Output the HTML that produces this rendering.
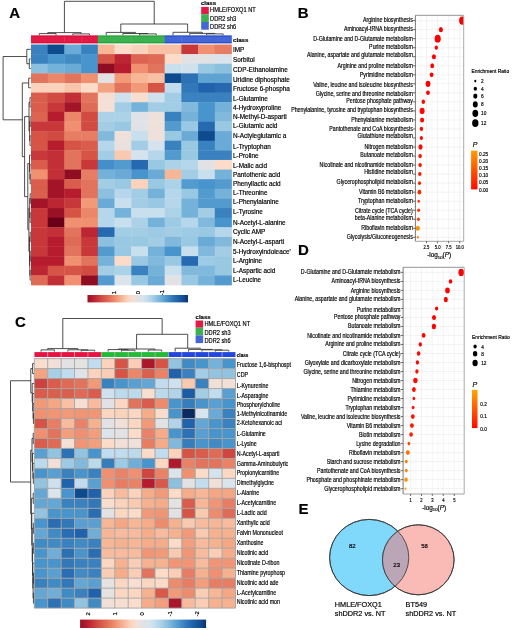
<!DOCTYPE html>
<html><head><meta charset="utf-8"><title>Figure</title>
<style>
html,body{margin:0;padding:0;background:#fff;}
body{width:520px;height:630px;overflow:hidden;}
svg{display:block;}
svg text{font-family:"Liberation Sans",Arial,sans-serif;fill:#000;stroke:#000;stroke-width:0.18px;}
</style></head><body>
<svg width="520" height="630" viewBox="0 0 520 630">
<rect x="0" y="0" width="520" height="630" fill="#fff"/>
<text x="9.2" y="17.8" font-size="15" font-weight="bold">A</text>
<rect x="31" y="44.5" width="17.06" height="9.97" fill="#3981bf"/>
<rect x="47.71" y="44.5" width="17.06" height="9.97" fill="#0e4a8e"/>
<rect x="64.42" y="44.5" width="17.06" height="9.97" fill="#6aaad6"/>
<rect x="81.12" y="44.5" width="17.06" height="9.97" fill="#3981bf"/>
<rect x="97.83" y="44.5" width="17.06" height="9.97" fill="#f7b696"/>
<rect x="114.54" y="44.5" width="17.06" height="9.97" fill="#fcdcc8"/>
<rect x="131.25" y="44.5" width="17.06" height="9.97" fill="#fbd3bc"/>
<rect x="147.96" y="44.5" width="17.06" height="9.97" fill="#f8c0a4"/>
<rect x="164.67" y="44.5" width="17.06" height="9.97" fill="#f8c0a4"/>
<rect x="181.38" y="44.5" width="17.06" height="9.97" fill="#c8383a"/>
<rect x="198.08" y="44.5" width="17.06" height="9.97" fill="#f09070"/>
<rect x="214.79" y="44.5" width="17.06" height="9.97" fill="#e77d63"/>
<text x="233" y="51.55" font-size="6.4">IMP</text>
<rect x="31" y="54.12" width="17.06" height="9.97" fill="#3981bf"/>
<rect x="47.71" y="54.12" width="17.06" height="9.97" fill="#4894cc"/>
<rect x="64.42" y="54.12" width="17.06" height="9.97" fill="#418bc5"/>
<rect x="81.12" y="54.12" width="17.06" height="9.97" fill="#4894cc"/>
<rect x="97.83" y="54.12" width="17.06" height="9.97" fill="#d65446"/>
<rect x="114.54" y="54.12" width="17.06" height="9.97" fill="#bc2532"/>
<rect x="131.25" y="54.12" width="17.06" height="9.97" fill="#dc6451"/>
<rect x="147.96" y="54.12" width="17.06" height="9.97" fill="#df6b56"/>
<rect x="164.67" y="54.12" width="17.06" height="9.97" fill="#fcdcc8"/>
<rect x="181.38" y="54.12" width="17.06" height="9.97" fill="#e2e2e4"/>
<rect x="198.08" y="54.12" width="17.06" height="9.97" fill="#e2e2e4"/>
<rect x="214.79" y="54.12" width="17.06" height="9.97" fill="#dbe3eb"/>
<text x="233" y="61.85" font-size="6.4">Sorbitol</text>
<rect x="31" y="63.74" width="17.06" height="9.97" fill="#8cc0df"/>
<rect x="47.71" y="63.74" width="17.06" height="9.97" fill="#75b2d9"/>
<rect x="64.42" y="63.74" width="17.06" height="9.97" fill="#6aaad6"/>
<rect x="81.12" y="63.74" width="17.06" height="9.97" fill="#4894cc"/>
<rect x="97.83" y="63.74" width="17.06" height="9.97" fill="#900c22"/>
<rect x="114.54" y="63.74" width="17.06" height="9.97" fill="#b61c2e"/>
<rect x="131.25" y="63.74" width="17.06" height="9.97" fill="#f09070"/>
<rect x="147.96" y="63.74" width="17.06" height="9.97" fill="#e2735c"/>
<rect x="164.67" y="63.74" width="17.06" height="9.97" fill="#c8dfee"/>
<rect x="181.38" y="63.74" width="17.06" height="9.97" fill="#d0e1ee"/>
<rect x="198.08" y="63.74" width="17.06" height="9.97" fill="#98c8e2"/>
<rect x="214.79" y="63.74" width="17.06" height="9.97" fill="#8cc0df"/>
<text x="233" y="72.35" font-size="6.4">CDP-Ethanolamine</text>
<rect x="31" y="73.36" width="17.06" height="9.97" fill="#e2735c"/>
<rect x="47.71" y="73.36" width="17.06" height="9.97" fill="#eb8669"/>
<rect x="64.42" y="73.36" width="17.06" height="9.97" fill="#e2735c"/>
<rect x="81.12" y="73.36" width="17.06" height="9.97" fill="#f09070"/>
<rect x="97.83" y="73.36" width="17.06" height="9.97" fill="#e2e2e4"/>
<rect x="114.54" y="73.36" width="17.06" height="9.97" fill="#f29978"/>
<rect x="131.25" y="73.36" width="17.06" height="9.97" fill="#f7b696"/>
<rect x="147.96" y="73.36" width="17.06" height="9.97" fill="#f8c0a4"/>
<rect x="164.67" y="73.36" width="17.06" height="9.97" fill="#0e4a8e"/>
<rect x="181.38" y="73.36" width="17.06" height="9.97" fill="#2c71b4"/>
<rect x="198.08" y="73.36" width="17.06" height="9.97" fill="#5fa3d3"/>
<rect x="214.79" y="73.36" width="17.06" height="9.97" fill="#5fa3d3"/>
<text x="233" y="81.85" font-size="6.4">Uridine diphosphate</text>
<rect x="31" y="82.98" width="17.06" height="9.97" fill="#fbd3bc"/>
<rect x="47.71" y="82.98" width="17.06" height="9.97" fill="#fbd3bc"/>
<rect x="64.42" y="82.98" width="17.06" height="9.97" fill="#f9c5aa"/>
<rect x="81.12" y="82.98" width="17.06" height="9.97" fill="#fcdcc8"/>
<rect x="97.83" y="82.98" width="17.06" height="9.97" fill="#f4a380"/>
<rect x="114.54" y="82.98" width="17.06" height="9.97" fill="#e2735c"/>
<rect x="131.25" y="82.98" width="17.06" height="9.97" fill="#f29978"/>
<rect x="147.96" y="82.98" width="17.06" height="9.97" fill="#d65446"/>
<rect x="164.67" y="82.98" width="17.06" height="9.97" fill="#c0dcee"/>
<rect x="181.38" y="82.98" width="17.06" height="9.97" fill="#3278b8"/>
<rect x="198.08" y="82.98" width="17.06" height="9.97" fill="#2062ac"/>
<rect x="214.79" y="82.98" width="17.06" height="9.97" fill="#2669b0"/>
<text x="233" y="91.35" font-size="6.4">Fructose 6-phospha</text>
<rect x="31" y="92.6" width="17.06" height="9.97" fill="#d95c4c"/>
<rect x="47.71" y="92.6" width="17.06" height="9.97" fill="#d14b42"/>
<rect x="64.42" y="92.6" width="17.06" height="9.97" fill="#c22f36"/>
<rect x="81.12" y="92.6" width="17.06" height="9.97" fill="#e2735c"/>
<rect x="97.83" y="92.6" width="17.06" height="9.97" fill="#f6dfd2"/>
<rect x="114.54" y="92.6" width="17.06" height="9.97" fill="#d0e1ee"/>
<rect x="131.25" y="92.6" width="17.06" height="9.97" fill="#f8decf"/>
<rect x="147.96" y="92.6" width="17.06" height="9.97" fill="#d0e1ee"/>
<rect x="164.67" y="92.6" width="17.06" height="9.97" fill="#a2cde5"/>
<rect x="181.38" y="92.6" width="17.06" height="9.97" fill="#3981bf"/>
<rect x="198.08" y="92.6" width="17.06" height="9.97" fill="#3981bf"/>
<rect x="214.79" y="92.6" width="17.06" height="9.97" fill="#3981bf"/>
<text x="233" y="100.65" font-size="6.4">L-Glutamine</text>
<rect x="31" y="102.22" width="17.06" height="9.97" fill="#d95c4c"/>
<rect x="47.71" y="102.22" width="17.06" height="9.97" fill="#c8383a"/>
<rect x="64.42" y="102.22" width="17.06" height="9.97" fill="#a31428"/>
<rect x="81.12" y="102.22" width="17.06" height="9.97" fill="#df6b56"/>
<rect x="97.83" y="102.22" width="17.06" height="9.97" fill="#f4e0d6"/>
<rect x="114.54" y="102.22" width="17.06" height="9.97" fill="#a2cde5"/>
<rect x="131.25" y="102.22" width="17.06" height="9.97" fill="#75b2d9"/>
<rect x="147.96" y="102.22" width="17.06" height="9.97" fill="#a2cde5"/>
<rect x="164.67" y="102.22" width="17.06" height="9.97" fill="#a2cde5"/>
<rect x="181.38" y="102.22" width="17.06" height="9.97" fill="#81b9dc"/>
<rect x="198.08" y="102.22" width="17.06" height="9.97" fill="#4894cc"/>
<rect x="214.79" y="102.22" width="17.06" height="9.97" fill="#75b2d9"/>
<text x="233" y="109.65" font-size="6.4">4-Hydroxyproline</text>
<rect x="31" y="111.84" width="17.06" height="9.97" fill="#dc6451"/>
<rect x="47.71" y="111.84" width="17.06" height="9.97" fill="#b61c2e"/>
<rect x="64.42" y="111.84" width="17.06" height="9.97" fill="#eb8669"/>
<rect x="81.12" y="111.84" width="17.06" height="9.97" fill="#d14b42"/>
<rect x="97.83" y="111.84" width="17.06" height="9.97" fill="#acd2e8"/>
<rect x="114.54" y="111.84" width="17.06" height="9.97" fill="#acd2e8"/>
<rect x="131.25" y="111.84" width="17.06" height="9.97" fill="#dfe3e7"/>
<rect x="147.96" y="111.84" width="17.06" height="9.97" fill="#eee1db"/>
<rect x="164.67" y="111.84" width="17.06" height="9.97" fill="#3981bf"/>
<rect x="181.38" y="111.84" width="17.06" height="9.97" fill="#75b2d9"/>
<rect x="198.08" y="111.84" width="17.06" height="9.97" fill="#4894cc"/>
<rect x="214.79" y="111.84" width="17.06" height="9.97" fill="#81b9dc"/>
<text x="233" y="118.85" font-size="6.4">N-Methyl-D-asparti</text>
<rect x="31" y="121.46" width="17.06" height="9.97" fill="#c8383a"/>
<rect x="47.71" y="121.46" width="17.06" height="9.97" fill="#c8383a"/>
<rect x="64.42" y="121.46" width="17.06" height="9.97" fill="#f09070"/>
<rect x="81.12" y="121.46" width="17.06" height="9.97" fill="#d14b42"/>
<rect x="97.83" y="121.46" width="17.06" height="9.97" fill="#a2cde5"/>
<rect x="114.54" y="121.46" width="17.06" height="9.97" fill="#98c8e2"/>
<rect x="131.25" y="121.46" width="17.06" height="9.97" fill="#dfe3e7"/>
<rect x="147.96" y="121.46" width="17.06" height="9.97" fill="#eee1db"/>
<rect x="164.67" y="121.46" width="17.06" height="9.97" fill="#539bcf"/>
<rect x="181.38" y="121.46" width="17.06" height="9.97" fill="#98c8e2"/>
<rect x="198.08" y="121.46" width="17.06" height="9.97" fill="#2669b0"/>
<rect x="214.79" y="121.46" width="17.06" height="9.97" fill="#98c8e2"/>
<text x="233" y="128.15" font-size="6.4">L-Glutamic acid</text>
<rect x="31" y="131.08" width="17.06" height="9.97" fill="#d65446"/>
<rect x="47.71" y="131.08" width="17.06" height="9.97" fill="#d14b42"/>
<rect x="64.42" y="131.08" width="17.06" height="9.97" fill="#e77d63"/>
<rect x="81.12" y="131.08" width="17.06" height="9.97" fill="#e77d63"/>
<rect x="97.83" y="131.08" width="17.06" height="9.97" fill="#81b9dc"/>
<rect x="114.54" y="131.08" width="17.06" height="9.97" fill="#eee1db"/>
<rect x="131.25" y="131.08" width="17.06" height="9.97" fill="#c8dfee"/>
<rect x="147.96" y="131.08" width="17.06" height="9.97" fill="#eee1db"/>
<rect x="164.67" y="131.08" width="17.06" height="9.97" fill="#98c8e2"/>
<rect x="181.38" y="131.08" width="17.06" height="9.97" fill="#6aaad6"/>
<rect x="198.08" y="131.08" width="17.06" height="9.97" fill="#0e4a8e"/>
<rect x="214.79" y="131.08" width="17.06" height="9.97" fill="#6aaad6"/>
<text x="233" y="138.05" font-size="6.4">N-Actyleglutamic a</text>
<rect x="31" y="140.7" width="17.06" height="9.97" fill="#d65446"/>
<rect x="47.71" y="140.7" width="17.06" height="9.97" fill="#b61c2e"/>
<rect x="64.42" y="140.7" width="17.06" height="9.97" fill="#d65446"/>
<rect x="81.12" y="140.7" width="17.06" height="9.97" fill="#d95c4c"/>
<rect x="97.83" y="140.7" width="17.06" height="9.97" fill="#b6d7eb"/>
<rect x="114.54" y="140.7" width="17.06" height="9.97" fill="#e8e1df"/>
<rect x="131.25" y="140.7" width="17.06" height="9.97" fill="#a2cde5"/>
<rect x="147.96" y="140.7" width="17.06" height="9.97" fill="#d4e3ee"/>
<rect x="164.67" y="140.7" width="17.06" height="9.97" fill="#3981bf"/>
<rect x="181.38" y="140.7" width="17.06" height="9.97" fill="#98c8e2"/>
<rect x="198.08" y="140.7" width="17.06" height="9.97" fill="#3981bf"/>
<rect x="214.79" y="140.7" width="17.06" height="9.97" fill="#6aaad6"/>
<text x="233" y="148.85" font-size="6.4">L-Tryptophan</text>
<rect x="31" y="150.32" width="17.06" height="9.97" fill="#c8383a"/>
<rect x="47.71" y="150.32" width="17.06" height="9.97" fill="#c22f36"/>
<rect x="64.42" y="150.32" width="17.06" height="9.97" fill="#e2735c"/>
<rect x="81.12" y="150.32" width="17.06" height="9.97" fill="#d65446"/>
<rect x="97.83" y="150.32" width="17.06" height="9.97" fill="#a2cde5"/>
<rect x="114.54" y="150.32" width="17.06" height="9.97" fill="#f9c9b0"/>
<rect x="131.25" y="150.32" width="17.06" height="9.97" fill="#d4e3ee"/>
<rect x="147.96" y="150.32" width="17.06" height="9.97" fill="#b6d7eb"/>
<rect x="164.67" y="150.32" width="17.06" height="9.97" fill="#539bcf"/>
<rect x="181.38" y="150.32" width="17.06" height="9.97" fill="#98c8e2"/>
<rect x="198.08" y="150.32" width="17.06" height="9.97" fill="#3981bf"/>
<rect x="214.79" y="150.32" width="17.06" height="9.97" fill="#3981bf"/>
<text x="233" y="158.45" font-size="6.4">L-Proline</text>
<rect x="31" y="159.94" width="17.06" height="9.97" fill="#d95c4c"/>
<rect x="47.71" y="159.94" width="17.06" height="9.97" fill="#c22f36"/>
<rect x="64.42" y="159.94" width="17.06" height="9.97" fill="#e2735c"/>
<rect x="81.12" y="159.94" width="17.06" height="9.97" fill="#c8383a"/>
<rect x="97.83" y="159.94" width="17.06" height="9.97" fill="#448fc9"/>
<rect x="114.54" y="159.94" width="17.06" height="9.97" fill="#539bcf"/>
<rect x="131.25" y="159.94" width="17.06" height="9.97" fill="#2669b0"/>
<rect x="147.96" y="159.94" width="17.06" height="9.97" fill="#98c8e2"/>
<rect x="164.67" y="159.94" width="17.06" height="9.97" fill="#acd2e8"/>
<rect x="181.38" y="159.94" width="17.06" height="9.97" fill="#b6d7eb"/>
<rect x="198.08" y="159.94" width="17.06" height="9.97" fill="#e2e2e4"/>
<rect x="214.79" y="159.94" width="17.06" height="9.97" fill="#fcdcc8"/>
<text x="233" y="167.65" font-size="6.4">L-Malic acid</text>
<rect x="31" y="169.56" width="17.06" height="9.97" fill="#f09070"/>
<rect x="47.71" y="169.56" width="17.06" height="9.97" fill="#c22f36"/>
<rect x="64.42" y="169.56" width="17.06" height="9.97" fill="#900c22"/>
<rect x="81.12" y="169.56" width="17.06" height="9.97" fill="#e77d63"/>
<rect x="97.83" y="169.56" width="17.06" height="9.97" fill="#75b2d9"/>
<rect x="114.54" y="169.56" width="17.06" height="9.97" fill="#6aaad6"/>
<rect x="131.25" y="169.56" width="17.06" height="9.97" fill="#4894cc"/>
<rect x="147.96" y="169.56" width="17.06" height="9.97" fill="#6aaad6"/>
<rect x="164.67" y="169.56" width="17.06" height="9.97" fill="#f7b696"/>
<rect x="181.38" y="169.56" width="17.06" height="9.97" fill="#a2cde5"/>
<rect x="198.08" y="169.56" width="17.06" height="9.97" fill="#c8dfee"/>
<rect x="214.79" y="169.56" width="17.06" height="9.97" fill="#75b2d9"/>
<text x="233" y="176.75" font-size="6.4">Pantothenic acid</text>
<rect x="31" y="179.18" width="17.06" height="9.97" fill="#d95c4c"/>
<rect x="47.71" y="179.18" width="17.06" height="9.97" fill="#a31428"/>
<rect x="64.42" y="179.18" width="17.06" height="9.97" fill="#d95c4c"/>
<rect x="81.12" y="179.18" width="17.06" height="9.97" fill="#e2735c"/>
<rect x="97.83" y="179.18" width="17.06" height="9.97" fill="#a2cde5"/>
<rect x="114.54" y="179.18" width="17.06" height="9.97" fill="#98c8e2"/>
<rect x="131.25" y="179.18" width="17.06" height="9.97" fill="#fbd3bc"/>
<rect x="147.96" y="179.18" width="17.06" height="9.97" fill="#98c8e2"/>
<rect x="164.67" y="179.18" width="17.06" height="9.97" fill="#acd2e8"/>
<rect x="181.38" y="179.18" width="17.06" height="9.97" fill="#539bcf"/>
<rect x="198.08" y="179.18" width="17.06" height="9.97" fill="#4894cc"/>
<rect x="214.79" y="179.18" width="17.06" height="9.97" fill="#539bcf"/>
<text x="233" y="186.05" font-size="6.4">Phenyllactic acid</text>
<rect x="31" y="188.8" width="17.06" height="9.97" fill="#da604e"/>
<rect x="47.71" y="188.8" width="17.06" height="9.97" fill="#a31428"/>
<rect x="64.42" y="188.8" width="17.06" height="9.97" fill="#b61c2e"/>
<rect x="81.12" y="188.8" width="17.06" height="9.97" fill="#e2735c"/>
<rect x="97.83" y="188.8" width="17.06" height="9.97" fill="#8cc0df"/>
<rect x="114.54" y="188.8" width="17.06" height="9.97" fill="#b6d7eb"/>
<rect x="131.25" y="188.8" width="17.06" height="9.97" fill="#a2cde5"/>
<rect x="147.96" y="188.8" width="17.06" height="9.97" fill="#75b2d9"/>
<rect x="164.67" y="188.8" width="17.06" height="9.97" fill="#b6d7eb"/>
<rect x="181.38" y="188.8" width="17.06" height="9.97" fill="#98c8e2"/>
<rect x="198.08" y="188.8" width="17.06" height="9.97" fill="#539bcf"/>
<rect x="214.79" y="188.8" width="17.06" height="9.97" fill="#75b2d9"/>
<text x="233" y="195.15" font-size="6.4">L-Threonine</text>
<rect x="31" y="198.42" width="17.06" height="9.97" fill="#a31428"/>
<rect x="47.71" y="198.42" width="17.06" height="9.97" fill="#bc2532"/>
<rect x="64.42" y="198.42" width="17.06" height="9.97" fill="#c8383a"/>
<rect x="81.12" y="198.42" width="17.06" height="9.97" fill="#f29978"/>
<rect x="97.83" y="198.42" width="17.06" height="9.97" fill="#6aaad6"/>
<rect x="114.54" y="198.42" width="17.06" height="9.97" fill="#c8dfee"/>
<rect x="131.25" y="198.42" width="17.06" height="9.97" fill="#a2cde5"/>
<rect x="147.96" y="198.42" width="17.06" height="9.97" fill="#98c8e2"/>
<rect x="164.67" y="198.42" width="17.06" height="9.97" fill="#b6d7eb"/>
<rect x="181.38" y="198.42" width="17.06" height="9.97" fill="#75b2d9"/>
<rect x="198.08" y="198.42" width="17.06" height="9.97" fill="#539bcf"/>
<rect x="214.79" y="198.42" width="17.06" height="9.97" fill="#539bcf"/>
<text x="233" y="204.45" font-size="6.4">L-Phenylalanine</text>
<rect x="31" y="208.04" width="17.06" height="9.97" fill="#c8383a"/>
<rect x="47.71" y="208.04" width="17.06" height="9.97" fill="#9a1025"/>
<rect x="64.42" y="208.04" width="17.06" height="9.97" fill="#d65446"/>
<rect x="81.12" y="208.04" width="17.06" height="9.97" fill="#eb8669"/>
<rect x="97.83" y="208.04" width="17.06" height="9.97" fill="#b6d7eb"/>
<rect x="114.54" y="208.04" width="17.06" height="9.97" fill="#75b2d9"/>
<rect x="131.25" y="208.04" width="17.06" height="9.97" fill="#c8dfee"/>
<rect x="147.96" y="208.04" width="17.06" height="9.97" fill="#c8dfee"/>
<rect x="164.67" y="208.04" width="17.06" height="9.97" fill="#acd2e8"/>
<rect x="181.38" y="208.04" width="17.06" height="9.97" fill="#75b2d9"/>
<rect x="198.08" y="208.04" width="17.06" height="9.97" fill="#a2cde5"/>
<rect x="214.79" y="208.04" width="17.06" height="9.97" fill="#3981bf"/>
<text x="233" y="213.65" font-size="6.4">L-Tyrosine</text>
<rect x="31" y="217.66" width="17.06" height="9.97" fill="#c8383a"/>
<rect x="47.71" y="217.66" width="17.06" height="9.97" fill="#6a0018"/>
<rect x="64.42" y="217.66" width="17.06" height="9.97" fill="#f09070"/>
<rect x="81.12" y="217.66" width="17.06" height="9.97" fill="#f09070"/>
<rect x="97.83" y="217.66" width="17.06" height="9.97" fill="#b6d7eb"/>
<rect x="114.54" y="217.66" width="17.06" height="9.97" fill="#c8dfee"/>
<rect x="131.25" y="217.66" width="17.06" height="9.97" fill="#acd2e8"/>
<rect x="147.96" y="217.66" width="17.06" height="9.97" fill="#75b2d9"/>
<rect x="164.67" y="217.66" width="17.06" height="9.97" fill="#9dcae4"/>
<rect x="181.38" y="217.66" width="17.06" height="9.97" fill="#b6d7eb"/>
<rect x="198.08" y="217.66" width="17.06" height="9.97" fill="#81b9dc"/>
<rect x="214.79" y="217.66" width="17.06" height="9.97" fill="#4894cc"/>
<text x="233" y="224.95" font-size="6.4">N-Acetyl-L-alanine</text>
<rect x="31" y="227.28" width="17.06" height="9.97" fill="#c8383a"/>
<rect x="47.71" y="227.28" width="17.06" height="9.97" fill="#c22f36"/>
<rect x="64.42" y="227.28" width="17.06" height="9.97" fill="#e2735c"/>
<rect x="81.12" y="227.28" width="17.06" height="9.97" fill="#bc2532"/>
<rect x="97.83" y="227.28" width="17.06" height="9.97" fill="#2669b0"/>
<rect x="114.54" y="227.28" width="17.06" height="9.97" fill="#a2cde5"/>
<rect x="131.25" y="227.28" width="17.06" height="9.97" fill="#a2cde5"/>
<rect x="147.96" y="227.28" width="17.06" height="9.97" fill="#9dcae4"/>
<rect x="164.67" y="227.28" width="17.06" height="9.97" fill="#a2cde5"/>
<rect x="181.38" y="227.28" width="17.06" height="9.97" fill="#9dcae4"/>
<rect x="198.08" y="227.28" width="17.06" height="9.97" fill="#98c8e2"/>
<rect x="214.79" y="227.28" width="17.06" height="9.97" fill="#b6d7eb"/>
<text x="233" y="233.85" font-size="6.4">Cyclic AMP</text>
<rect x="31" y="236.9" width="17.06" height="9.97" fill="#c8383a"/>
<rect x="47.71" y="236.9" width="17.06" height="9.97" fill="#b61c2e"/>
<rect x="64.42" y="236.9" width="17.06" height="9.97" fill="#df6b56"/>
<rect x="81.12" y="236.9" width="17.06" height="9.97" fill="#c8383a"/>
<rect x="97.83" y="236.9" width="17.06" height="9.97" fill="#8cc0df"/>
<rect x="114.54" y="236.9" width="17.06" height="9.97" fill="#98c8e2"/>
<rect x="131.25" y="236.9" width="17.06" height="9.97" fill="#98c8e2"/>
<rect x="147.96" y="236.9" width="17.06" height="9.97" fill="#a2cde5"/>
<rect x="164.67" y="236.9" width="17.06" height="9.97" fill="#81b9dc"/>
<rect x="181.38" y="236.9" width="17.06" height="9.97" fill="#98c8e2"/>
<rect x="198.08" y="236.9" width="17.06" height="9.97" fill="#6aaad6"/>
<rect x="214.79" y="236.9" width="17.06" height="9.97" fill="#81b9dc"/>
<text x="233" y="243.95" font-size="6.4">N-Acetyl-L-asparti</text>
<rect x="31" y="246.52" width="17.06" height="9.97" fill="#c8383a"/>
<rect x="47.71" y="246.52" width="17.06" height="9.97" fill="#b61c2e"/>
<rect x="64.42" y="246.52" width="17.06" height="9.97" fill="#e2735c"/>
<rect x="81.12" y="246.52" width="17.06" height="9.97" fill="#c8383a"/>
<rect x="97.83" y="246.52" width="17.06" height="9.97" fill="#539bcf"/>
<rect x="114.54" y="246.52" width="17.06" height="9.97" fill="#98c8e2"/>
<rect x="131.25" y="246.52" width="17.06" height="9.97" fill="#c8dfee"/>
<rect x="147.96" y="246.52" width="17.06" height="9.97" fill="#75b2d9"/>
<rect x="164.67" y="246.52" width="17.06" height="9.97" fill="#4894cc"/>
<rect x="181.38" y="246.52" width="17.06" height="9.97" fill="#c8dfee"/>
<rect x="198.08" y="246.52" width="17.06" height="9.97" fill="#81b9dc"/>
<rect x="214.79" y="246.52" width="17.06" height="9.97" fill="#a2cde5"/>
<text x="233" y="253.95" font-size="6.4">5-Hydroxyindoleace'</text>
<rect x="31" y="256.14" width="17.06" height="9.97" fill="#b61c2e"/>
<rect x="47.71" y="256.14" width="17.06" height="9.97" fill="#b61c2e"/>
<rect x="64.42" y="256.14" width="17.06" height="9.97" fill="#f09070"/>
<rect x="81.12" y="256.14" width="17.06" height="9.97" fill="#e2735c"/>
<rect x="97.83" y="256.14" width="17.06" height="9.97" fill="#75b2d9"/>
<rect x="114.54" y="256.14" width="17.06" height="9.97" fill="#fcdcc8"/>
<rect x="131.25" y="256.14" width="17.06" height="9.97" fill="#98c8e2"/>
<rect x="147.96" y="256.14" width="17.06" height="9.97" fill="#81b9dc"/>
<rect x="164.67" y="256.14" width="17.06" height="9.97" fill="#98c8e2"/>
<rect x="181.38" y="256.14" width="17.06" height="9.97" fill="#2669b0"/>
<rect x="198.08" y="256.14" width="17.06" height="9.97" fill="#9dcae4"/>
<rect x="214.79" y="256.14" width="17.06" height="9.97" fill="#98c8e2"/>
<text x="233" y="263.25" font-size="6.4">L-Arginine</text>
<rect x="31" y="265.76" width="17.06" height="9.97" fill="#bc2532"/>
<rect x="47.71" y="265.76" width="17.06" height="9.97" fill="#d65446"/>
<rect x="64.42" y="265.76" width="17.06" height="9.97" fill="#d65446"/>
<rect x="81.12" y="265.76" width="17.06" height="9.97" fill="#d14b42"/>
<rect x="97.83" y="265.76" width="17.06" height="9.97" fill="#a2cde5"/>
<rect x="114.54" y="265.76" width="17.06" height="9.97" fill="#acd2e8"/>
<rect x="131.25" y="265.76" width="17.06" height="9.97" fill="#3981bf"/>
<rect x="147.96" y="265.76" width="17.06" height="9.97" fill="#75b2d9"/>
<rect x="164.67" y="265.76" width="17.06" height="9.97" fill="#c8dfee"/>
<rect x="181.38" y="265.76" width="17.06" height="9.97" fill="#81b9dc"/>
<rect x="198.08" y="265.76" width="17.06" height="9.97" fill="#81b9dc"/>
<rect x="214.79" y="265.76" width="17.06" height="9.97" fill="#98c8e2"/>
<text x="233" y="272.55" font-size="6.4">L-Aspartic acid</text>
<rect x="31" y="275.38" width="17.06" height="9.97" fill="#df6b56"/>
<rect x="47.71" y="275.38" width="17.06" height="9.97" fill="#c22f36"/>
<rect x="64.42" y="275.38" width="17.06" height="9.97" fill="#f09070"/>
<rect x="81.12" y="275.38" width="17.06" height="9.97" fill="#900c22"/>
<rect x="97.83" y="275.38" width="17.06" height="9.97" fill="#539bcf"/>
<rect x="114.54" y="275.38" width="17.06" height="9.97" fill="#dbe3eb"/>
<rect x="131.25" y="275.38" width="17.06" height="9.97" fill="#98c8e2"/>
<rect x="147.96" y="275.38" width="17.06" height="9.97" fill="#6aaad6"/>
<rect x="164.67" y="275.38" width="17.06" height="9.97" fill="#e2e2e4"/>
<rect x="181.38" y="275.38" width="17.06" height="9.97" fill="#98c8e2"/>
<rect x="198.08" y="275.38" width="17.06" height="9.97" fill="#75b2d9"/>
<rect x="214.79" y="275.38" width="17.06" height="9.97" fill="#539bcf"/>
<text x="233" y="281.85" font-size="6.4">L-Leucine</text>
<rect x="31" y="35.6" width="17.06" height="7.6" fill="#e21a48"/>
<rect x="47.71" y="35.6" width="17.06" height="7.6" fill="#e21a48"/>
<rect x="64.42" y="35.6" width="17.06" height="7.6" fill="#e21a48"/>
<rect x="81.12" y="35.6" width="17.06" height="7.6" fill="#e21a48"/>
<rect x="97.83" y="35.6" width="17.06" height="7.6" fill="#3db04f"/>
<rect x="114.54" y="35.6" width="17.06" height="7.6" fill="#3db04f"/>
<rect x="131.25" y="35.6" width="17.06" height="7.6" fill="#3db04f"/>
<rect x="147.96" y="35.6" width="17.06" height="7.6" fill="#3db04f"/>
<rect x="164.67" y="35.6" width="17.06" height="7.6" fill="#4466d6"/>
<rect x="181.38" y="35.6" width="17.06" height="7.6" fill="#4466d6"/>
<rect x="198.08" y="35.6" width="17.06" height="7.6" fill="#4466d6"/>
<rect x="214.79" y="35.6" width="17.06" height="7.6" fill="#4466d6"/>
<line x1="31" y1="36" x2="97.83" y2="36" stroke="#e0002c" stroke-width="0.8"/>
<line x1="31" y1="42.8" x2="97.83" y2="42.8" stroke="#e0002c" stroke-width="0.8"/>
<line x1="97.83" y1="36" x2="164.67" y2="36" stroke="#12a02a" stroke-width="0.8"/>
<line x1="97.83" y1="42.8" x2="164.67" y2="42.8" stroke="#12a02a" stroke-width="0.8"/>
<line x1="164.67" y1="36" x2="231.5" y2="36" stroke="#1a3cc8" stroke-width="0.8"/>
<line x1="164.67" y1="42.8" x2="231.5" y2="42.8" stroke="#1a3cc8" stroke-width="0.8"/>
<text x="233" y="42.2" font-size="6.2" font-weight="bold">class</text>
<text x="201" y="4.8" font-size="6" font-weight="bold">class</text>
<rect x="201.2" y="6.9" width="7.6" height="7.4" fill="#e21a48"/>
<rect x="201.2" y="14.3" width="7.6" height="7.7" fill="#3db04f"/>
<rect x="201.2" y="22" width="7.6" height="7.7" fill="#4466d6"/>
<text transform="translate(210.1,12.4) scale(0.9,1)" font-size="6.3">HMLE/FOXQ1 NT</text>
<text transform="translate(210.1,20.8) scale(0.9,1)" font-size="6.3">DDR2 sh3</text>
<text transform="translate(210.1,29.1) scale(0.9,1)" font-size="6.3">DDR2 sh6</text>
<line x1="39.35" y1="35.2" x2="39.35" y2="33.6" stroke="#2e2e2e" stroke-width="0.85"/>
<line x1="56.06" y1="35.2" x2="56.06" y2="33.6" stroke="#2e2e2e" stroke-width="0.85"/>
<line x1="39.35" y1="33.6" x2="56.06" y2="33.6" stroke="#2e2e2e" stroke-width="0.85"/>
<line x1="72.77" y1="35.2" x2="72.77" y2="33.9" stroke="#2e2e2e" stroke-width="0.85"/>
<line x1="89.48" y1="35.2" x2="89.48" y2="33.9" stroke="#2e2e2e" stroke-width="0.85"/>
<line x1="72.77" y1="33.9" x2="89.48" y2="33.9" stroke="#2e2e2e" stroke-width="0.85"/>
<line x1="47.71" y1="33.6" x2="47.71" y2="32.6" stroke="#2e2e2e" stroke-width="0.85"/>
<line x1="81.12" y1="33.9" x2="81.12" y2="32.6" stroke="#2e2e2e" stroke-width="0.85"/>
<line x1="47.71" y1="32.6" x2="81.12" y2="32.6" stroke="#2e2e2e" stroke-width="0.85"/>
<line x1="139.6" y1="35.2" x2="139.6" y2="33.9" stroke="#2e2e2e" stroke-width="0.85"/>
<line x1="156.31" y1="35.2" x2="156.31" y2="33.9" stroke="#2e2e2e" stroke-width="0.85"/>
<line x1="139.6" y1="33.9" x2="156.31" y2="33.9" stroke="#2e2e2e" stroke-width="0.85"/>
<line x1="122.9" y1="35.2" x2="122.9" y2="33.5" stroke="#2e2e2e" stroke-width="0.85"/>
<line x1="147.96" y1="33.9" x2="147.96" y2="33.5" stroke="#2e2e2e" stroke-width="0.85"/>
<line x1="122.9" y1="33.5" x2="147.96" y2="33.5" stroke="#2e2e2e" stroke-width="0.85"/>
<line x1="106.19" y1="35.2" x2="106.19" y2="32.4" stroke="#2e2e2e" stroke-width="0.85"/>
<line x1="135.43" y1="33.5" x2="135.43" y2="32.4" stroke="#2e2e2e" stroke-width="0.85"/>
<line x1="106.19" y1="32.4" x2="135.43" y2="32.4" stroke="#2e2e2e" stroke-width="0.85"/>
<line x1="206.44" y1="35.2" x2="206.44" y2="33.9" stroke="#2e2e2e" stroke-width="0.85"/>
<line x1="223.15" y1="35.2" x2="223.15" y2="33.9" stroke="#2e2e2e" stroke-width="0.85"/>
<line x1="206.44" y1="33.9" x2="223.15" y2="33.9" stroke="#2e2e2e" stroke-width="0.85"/>
<line x1="189.73" y1="35.2" x2="189.73" y2="33.4" stroke="#2e2e2e" stroke-width="0.85"/>
<line x1="214.79" y1="33.9" x2="214.79" y2="33.4" stroke="#2e2e2e" stroke-width="0.85"/>
<line x1="189.73" y1="33.4" x2="214.79" y2="33.4" stroke="#2e2e2e" stroke-width="0.85"/>
<line x1="173.02" y1="35.2" x2="173.02" y2="32.3" stroke="#2e2e2e" stroke-width="0.85"/>
<line x1="202.26" y1="33.4" x2="202.26" y2="32.3" stroke="#2e2e2e" stroke-width="0.85"/>
<line x1="173.02" y1="32.3" x2="202.26" y2="32.3" stroke="#2e2e2e" stroke-width="0.85"/>
<line x1="120.81" y1="32.4" x2="120.81" y2="24" stroke="#2e2e2e" stroke-width="0.85"/>
<line x1="187.64" y1="32.3" x2="187.64" y2="24" stroke="#2e2e2e" stroke-width="0.85"/>
<line x1="120.81" y1="24" x2="187.64" y2="24" stroke="#2e2e2e" stroke-width="0.85"/>
<line x1="64.42" y1="32.6" x2="64.42" y2="1.3" stroke="#2e2e2e" stroke-width="0.85"/>
<line x1="154.22" y1="24" x2="154.22" y2="1.3" stroke="#2e2e2e" stroke-width="0.85"/>
<line x1="64.42" y1="1.3" x2="154.22" y2="1.3" stroke="#2e2e2e" stroke-width="0.85"/>
<line x1="30.8" y1="58.93" x2="29.3" y2="58.93" stroke="#2e2e2e" stroke-width="0.85"/>
<line x1="30.8" y1="68.55" x2="29.3" y2="68.55" stroke="#2e2e2e" stroke-width="0.85"/>
<line x1="29.3" y1="58.93" x2="29.3" y2="68.55" stroke="#2e2e2e" stroke-width="0.85"/>
<line x1="30.8" y1="49.31" x2="26.8" y2="49.31" stroke="#2e2e2e" stroke-width="0.85"/>
<line x1="29.3" y1="63.74" x2="26.8" y2="63.74" stroke="#2e2e2e" stroke-width="0.85"/>
<line x1="26.8" y1="49.31" x2="26.8" y2="63.74" stroke="#2e2e2e" stroke-width="0.85"/>
<line x1="30.8" y1="78.17" x2="28.7" y2="78.17" stroke="#2e2e2e" stroke-width="0.85"/>
<line x1="30.8" y1="87.79" x2="28.7" y2="87.79" stroke="#2e2e2e" stroke-width="0.85"/>
<line x1="28.7" y1="78.17" x2="28.7" y2="87.79" stroke="#2e2e2e" stroke-width="0.85"/>
<line x1="30.8" y1="97.41" x2="30" y2="97.41" stroke="#2e2e2e" stroke-width="0.85"/>
<line x1="30.8" y1="107.03" x2="30" y2="107.03" stroke="#2e2e2e" stroke-width="0.85"/>
<line x1="30" y1="97.41" x2="30" y2="107.03" stroke="#2e2e2e" stroke-width="0.85"/>
<line x1="30.8" y1="116.65" x2="30.1" y2="116.65" stroke="#2e2e2e" stroke-width="0.85"/>
<line x1="30.8" y1="126.27" x2="30.1" y2="126.27" stroke="#2e2e2e" stroke-width="0.85"/>
<line x1="30.1" y1="116.65" x2="30.1" y2="126.27" stroke="#2e2e2e" stroke-width="0.85"/>
<line x1="30.8" y1="135.89" x2="30" y2="135.89" stroke="#2e2e2e" stroke-width="0.85"/>
<line x1="30.8" y1="145.51" x2="30" y2="145.51" stroke="#2e2e2e" stroke-width="0.85"/>
<line x1="30" y1="135.89" x2="30" y2="145.51" stroke="#2e2e2e" stroke-width="0.85"/>
<line x1="30.1" y1="121.46" x2="29.6" y2="121.46" stroke="#2e2e2e" stroke-width="0.85"/>
<line x1="30" y1="140.7" x2="29.6" y2="140.7" stroke="#2e2e2e" stroke-width="0.85"/>
<line x1="29.6" y1="121.46" x2="29.6" y2="140.7" stroke="#2e2e2e" stroke-width="0.85"/>
<line x1="30" y1="102.22" x2="29" y2="102.22" stroke="#2e2e2e" stroke-width="0.85"/>
<line x1="29.6" y1="131.08" x2="29" y2="131.08" stroke="#2e2e2e" stroke-width="0.85"/>
<line x1="29" y1="102.22" x2="29" y2="131.08" stroke="#2e2e2e" stroke-width="0.85"/>
<line x1="30.8" y1="174.37" x2="30.2" y2="174.37" stroke="#2e2e2e" stroke-width="0.85"/>
<line x1="30.8" y1="183.99" x2="30.2" y2="183.99" stroke="#2e2e2e" stroke-width="0.85"/>
<line x1="30.2" y1="174.37" x2="30.2" y2="183.99" stroke="#2e2e2e" stroke-width="0.85"/>
<line x1="30.8" y1="164.75" x2="29.9" y2="164.75" stroke="#2e2e2e" stroke-width="0.85"/>
<line x1="30.2" y1="179.18" x2="29.9" y2="179.18" stroke="#2e2e2e" stroke-width="0.85"/>
<line x1="29.9" y1="164.75" x2="29.9" y2="179.18" stroke="#2e2e2e" stroke-width="0.85"/>
<line x1="30.8" y1="155.13" x2="29.5" y2="155.13" stroke="#2e2e2e" stroke-width="0.85"/>
<line x1="29.9" y1="171.96" x2="29.5" y2="171.96" stroke="#2e2e2e" stroke-width="0.85"/>
<line x1="29.5" y1="155.13" x2="29.5" y2="171.96" stroke="#2e2e2e" stroke-width="0.85"/>
<line x1="30.8" y1="193.61" x2="30.2" y2="193.61" stroke="#2e2e2e" stroke-width="0.85"/>
<line x1="30.8" y1="203.23" x2="30.2" y2="203.23" stroke="#2e2e2e" stroke-width="0.85"/>
<line x1="30.2" y1="193.61" x2="30.2" y2="203.23" stroke="#2e2e2e" stroke-width="0.85"/>
<line x1="30.8" y1="212.85" x2="30.1" y2="212.85" stroke="#2e2e2e" stroke-width="0.85"/>
<line x1="30.8" y1="222.47" x2="30.1" y2="222.47" stroke="#2e2e2e" stroke-width="0.85"/>
<line x1="30.1" y1="212.85" x2="30.1" y2="222.47" stroke="#2e2e2e" stroke-width="0.85"/>
<line x1="30.2" y1="198.42" x2="29.7" y2="198.42" stroke="#2e2e2e" stroke-width="0.85"/>
<line x1="30.1" y1="217.66" x2="29.7" y2="217.66" stroke="#2e2e2e" stroke-width="0.85"/>
<line x1="29.7" y1="198.42" x2="29.7" y2="217.66" stroke="#2e2e2e" stroke-width="0.85"/>
<line x1="30.8" y1="232.09" x2="30.2" y2="232.09" stroke="#2e2e2e" stroke-width="0.85"/>
<line x1="30.8" y1="241.71" x2="30.2" y2="241.71" stroke="#2e2e2e" stroke-width="0.85"/>
<line x1="30.2" y1="232.09" x2="30.2" y2="241.71" stroke="#2e2e2e" stroke-width="0.85"/>
<line x1="30.8" y1="251.33" x2="30.2" y2="251.33" stroke="#2e2e2e" stroke-width="0.85"/>
<line x1="30.8" y1="260.95" x2="30.2" y2="260.95" stroke="#2e2e2e" stroke-width="0.85"/>
<line x1="30.2" y1="251.33" x2="30.2" y2="260.95" stroke="#2e2e2e" stroke-width="0.85"/>
<line x1="30.8" y1="270.57" x2="30.1" y2="270.57" stroke="#2e2e2e" stroke-width="0.85"/>
<line x1="30.8" y1="280.19" x2="30.1" y2="280.19" stroke="#2e2e2e" stroke-width="0.85"/>
<line x1="30.1" y1="270.57" x2="30.1" y2="280.19" stroke="#2e2e2e" stroke-width="0.85"/>
<line x1="30.2" y1="256.14" x2="29.8" y2="256.14" stroke="#2e2e2e" stroke-width="0.85"/>
<line x1="30.1" y1="275.38" x2="29.8" y2="275.38" stroke="#2e2e2e" stroke-width="0.85"/>
<line x1="29.8" y1="256.14" x2="29.8" y2="275.38" stroke="#2e2e2e" stroke-width="0.85"/>
<line x1="30.2" y1="236.9" x2="29.5" y2="236.9" stroke="#2e2e2e" stroke-width="0.85"/>
<line x1="29.8" y1="265.76" x2="29.5" y2="265.76" stroke="#2e2e2e" stroke-width="0.85"/>
<line x1="29.5" y1="236.9" x2="29.5" y2="265.76" stroke="#2e2e2e" stroke-width="0.85"/>
<line x1="29.7" y1="208.04" x2="28.9" y2="208.04" stroke="#2e2e2e" stroke-width="0.85"/>
<line x1="29.5" y1="251.33" x2="28.9" y2="251.33" stroke="#2e2e2e" stroke-width="0.85"/>
<line x1="28.9" y1="208.04" x2="28.9" y2="251.33" stroke="#2e2e2e" stroke-width="0.85"/>
<line x1="29.5" y1="163.55" x2="27.8" y2="163.55" stroke="#2e2e2e" stroke-width="0.85"/>
<line x1="28.9" y1="229.69" x2="27.8" y2="229.69" stroke="#2e2e2e" stroke-width="0.85"/>
<line x1="27.8" y1="163.55" x2="27.8" y2="229.69" stroke="#2e2e2e" stroke-width="0.85"/>
<line x1="29" y1="116.65" x2="24.6" y2="116.65" stroke="#2e2e2e" stroke-width="0.85"/>
<line x1="27.8" y1="196.62" x2="24.6" y2="196.62" stroke="#2e2e2e" stroke-width="0.85"/>
<line x1="24.6" y1="116.65" x2="24.6" y2="196.62" stroke="#2e2e2e" stroke-width="0.85"/>
<line x1="28.7" y1="82.98" x2="22.3" y2="82.98" stroke="#2e2e2e" stroke-width="0.85"/>
<line x1="24.6" y1="156.63" x2="22.3" y2="156.63" stroke="#2e2e2e" stroke-width="0.85"/>
<line x1="22.3" y1="82.98" x2="22.3" y2="156.63" stroke="#2e2e2e" stroke-width="0.85"/>
<line x1="26.8" y1="56.52" x2="3.1" y2="56.52" stroke="#2e2e2e" stroke-width="0.85"/>
<line x1="22.3" y1="119.81" x2="3.1" y2="119.81" stroke="#2e2e2e" stroke-width="0.85"/>
<line x1="3.1" y1="56.52" x2="3.1" y2="119.81" stroke="#2e2e2e" stroke-width="0.85"/>
<defs><linearGradient id="gA" x1="0" x2="1" y1="0" y2="0">
<stop offset="0" stop-color="#981025"/>
<stop offset="0.05" stop-color="#b41b2d"/>
<stop offset="0.1" stop-color="#c63539"/>
<stop offset="0.15" stop-color="#d45044"/>
<stop offset="0.2" stop-color="#de6854"/>
<stop offset="0.25" stop-color="#e98166"/>
<stop offset="0.3" stop-color="#f39d7b"/>
<stop offset="0.35" stop-color="#f7b99a"/>
<stop offset="0.4" stop-color="#fbd4be"/>
<stop offset="0.45" stop-color="#f3e0d6"/>
<stop offset="0.5" stop-color="#e2e2e4"/>
<stop offset="0.55" stop-color="#d8e4ee"/>
<stop offset="0.6" stop-color="#c1dcee"/>
<stop offset="0.65" stop-color="#a5cee6"/>
<stop offset="0.7" stop-color="#85bcdd"/>
<stop offset="0.75" stop-color="#64a6d4"/>
<stop offset="0.8" stop-color="#4590c9"/>
<stop offset="0.85" stop-color="#3075b6"/>
<stop offset="0.9" stop-color="#1f60aa"/>
<stop offset="0.95" stop-color="#124f94"/>
<stop offset="1" stop-color="#0b336d"/>
</linearGradient></defs>
<rect x="87.5" y="295" width="100.5" height="7.4" fill="url(#gA)"/>
<text transform="translate(115.5,292.6) rotate(-90)" font-size="6" text-anchor="middle">1</text>
<text transform="translate(139.7,292.6) rotate(-90)" font-size="6" text-anchor="middle">0</text>
<text transform="translate(163.9,292.6) rotate(-90)" font-size="6" text-anchor="middle">-1</text>
<text x="15" y="326.6" font-size="15" font-weight="bold">C</text>
<rect x="34.3" y="358.6" width="13.41" height="9.98" fill="#f8decf"/>
<rect x="47.71" y="358.6" width="13.41" height="9.98" fill="#f1e0d8"/>
<rect x="61.13" y="358.6" width="13.41" height="9.98" fill="#e2e2e4"/>
<rect x="74.54" y="358.6" width="13.41" height="9.98" fill="#e5e2e2"/>
<rect x="87.95" y="358.6" width="13.41" height="9.98" fill="#c0dcee"/>
<rect x="101.37" y="358.6" width="13.41" height="9.98" fill="#fbd3bc"/>
<rect x="114.78" y="358.6" width="13.41" height="9.98" fill="#d65446"/>
<rect x="128.19" y="358.6" width="13.41" height="9.98" fill="#faceb6"/>
<rect x="141.61" y="358.6" width="13.41" height="9.98" fill="#ac182b"/>
<rect x="155.02" y="358.6" width="13.41" height="9.98" fill="#d65446"/>
<rect x="168.43" y="358.6" width="13.41" height="9.98" fill="#92c4e0"/>
<rect x="181.85" y="358.6" width="13.41" height="9.98" fill="#418bc5"/>
<rect x="195.26" y="358.6" width="13.41" height="9.98" fill="#4894cc"/>
<rect x="208.67" y="358.6" width="13.41" height="9.98" fill="#75b2d9"/>
<rect x="222.09" y="358.6" width="13.41" height="9.98" fill="#4894cc"/>
<text transform="translate(236.8,367.3) scale(0.82,1)" font-size="6.5">Fructose 1,6-bisphospt</text>
<rect x="34.3" y="368.58" width="13.41" height="9.98" fill="#f4a380"/>
<rect x="47.71" y="368.58" width="13.41" height="9.98" fill="#a7d0e6"/>
<rect x="61.13" y="368.58" width="13.41" height="9.98" fill="#c0dcee"/>
<rect x="74.54" y="368.58" width="13.41" height="9.98" fill="#dfe3e7"/>
<rect x="87.95" y="368.58" width="13.41" height="9.98" fill="#fbd3bc"/>
<rect x="101.37" y="368.58" width="13.41" height="9.98" fill="#faceb6"/>
<rect x="114.78" y="368.58" width="13.41" height="9.98" fill="#d65446"/>
<rect x="128.19" y="368.58" width="13.41" height="9.98" fill="#eb8669"/>
<rect x="141.61" y="368.58" width="13.41" height="9.98" fill="#da604e"/>
<rect x="155.02" y="368.58" width="13.41" height="9.98" fill="#e98266"/>
<rect x="168.43" y="368.58" width="13.41" height="9.98" fill="#2062ac"/>
<rect x="181.85" y="368.58" width="13.41" height="9.98" fill="#3981bf"/>
<rect x="195.26" y="368.58" width="13.41" height="9.98" fill="#a2cde5"/>
<rect x="208.67" y="368.58" width="13.41" height="9.98" fill="#92c4e0"/>
<rect x="222.09" y="368.58" width="13.41" height="9.98" fill="#92c4e0"/>
<text transform="translate(236.8,377.2) scale(0.82,1)" font-size="6.5">CDP</text>
<rect x="34.3" y="378.56" width="13.41" height="9.98" fill="#cd413e"/>
<rect x="47.71" y="378.56" width="13.41" height="9.98" fill="#d95c4c"/>
<rect x="61.13" y="378.56" width="13.41" height="9.98" fill="#df6b56"/>
<rect x="74.54" y="378.56" width="13.41" height="9.98" fill="#e2735c"/>
<rect x="87.95" y="378.56" width="13.41" height="9.98" fill="#f29978"/>
<rect x="101.37" y="378.56" width="13.41" height="9.98" fill="#3981bf"/>
<rect x="114.78" y="378.56" width="13.41" height="9.98" fill="#4894cc"/>
<rect x="128.19" y="378.56" width="13.41" height="9.98" fill="#599fd1"/>
<rect x="141.61" y="378.56" width="13.41" height="9.98" fill="#64a6d4"/>
<rect x="155.02" y="378.56" width="13.41" height="9.98" fill="#c0dcee"/>
<rect x="168.43" y="378.56" width="13.41" height="9.98" fill="#d0e1ee"/>
<rect x="181.85" y="378.56" width="13.41" height="9.98" fill="#f9c9b0"/>
<rect x="195.26" y="378.56" width="13.41" height="9.98" fill="#3981bf"/>
<rect x="208.67" y="378.56" width="13.41" height="9.98" fill="#f1e0d8"/>
<rect x="222.09" y="378.56" width="13.41" height="9.98" fill="#f1e0d8"/>
<text transform="translate(236.8,387.5) scale(0.82,1)" font-size="6.5">L-Kynurenine</text>
<rect x="34.3" y="388.54" width="13.41" height="9.98" fill="#d95c4c"/>
<rect x="47.71" y="388.54" width="13.41" height="9.98" fill="#da604e"/>
<rect x="61.13" y="388.54" width="13.41" height="9.98" fill="#da604e"/>
<rect x="74.54" y="388.54" width="13.41" height="9.98" fill="#df6b56"/>
<rect x="87.95" y="388.54" width="13.41" height="9.98" fill="#d95c4c"/>
<rect x="101.37" y="388.54" width="13.41" height="9.98" fill="#d0e1ee"/>
<rect x="114.78" y="388.54" width="13.41" height="9.98" fill="#bbdaec"/>
<rect x="128.19" y="388.54" width="13.41" height="9.98" fill="#bbdaec"/>
<rect x="141.61" y="388.54" width="13.41" height="9.98" fill="#f8decf"/>
<rect x="155.02" y="388.54" width="13.41" height="9.98" fill="#bbdaec"/>
<rect x="168.43" y="388.54" width="13.41" height="9.98" fill="#b1d4ea"/>
<rect x="181.85" y="388.54" width="13.41" height="9.98" fill="#1c5ca4"/>
<rect x="195.26" y="388.54" width="13.41" height="9.98" fill="#a2cde5"/>
<rect x="208.67" y="388.54" width="13.41" height="9.98" fill="#c0dcee"/>
<rect x="222.09" y="388.54" width="13.41" height="9.98" fill="#599fd1"/>
<text transform="translate(236.8,397.6) scale(0.82,1)" font-size="6.5">L-Asparagine</text>
<rect x="34.3" y="398.52" width="13.41" height="9.98" fill="#f29978"/>
<rect x="47.71" y="398.52" width="13.41" height="9.98" fill="#f5a784"/>
<rect x="61.13" y="398.52" width="13.41" height="9.98" fill="#f8c0a4"/>
<rect x="74.54" y="398.52" width="13.41" height="9.98" fill="#f6dfd2"/>
<rect x="87.95" y="398.52" width="13.41" height="9.98" fill="#f8bb9d"/>
<rect x="101.37" y="398.52" width="13.41" height="9.98" fill="#e2e2e4"/>
<rect x="114.78" y="398.52" width="13.41" height="9.98" fill="#fbd7c2"/>
<rect x="128.19" y="398.52" width="13.41" height="9.98" fill="#e2735c"/>
<rect x="141.61" y="398.52" width="13.41" height="9.98" fill="#d95c4c"/>
<rect x="155.02" y="398.52" width="13.41" height="9.98" fill="#ee8b6d"/>
<rect x="168.43" y="398.52" width="13.41" height="9.98" fill="#4894cc"/>
<rect x="181.85" y="398.52" width="13.41" height="9.98" fill="#367dbb"/>
<rect x="195.26" y="398.52" width="13.41" height="9.98" fill="#4894cc"/>
<rect x="208.67" y="398.52" width="13.41" height="9.98" fill="#599fd1"/>
<rect x="222.09" y="398.52" width="13.41" height="9.98" fill="#4894cc"/>
<text transform="translate(236.8,406.5) scale(0.82,1)" font-size="6.5">Phosphorylcholine</text>
<rect x="34.3" y="408.5" width="13.41" height="9.98" fill="#f09070"/>
<rect x="47.71" y="408.5" width="13.41" height="9.98" fill="#f19574"/>
<rect x="61.13" y="408.5" width="13.41" height="9.98" fill="#f29978"/>
<rect x="74.54" y="408.5" width="13.41" height="9.98" fill="#f19574"/>
<rect x="87.95" y="408.5" width="13.41" height="9.98" fill="#f19574"/>
<rect x="101.37" y="408.5" width="13.41" height="9.98" fill="#fbd7c2"/>
<rect x="114.78" y="408.5" width="13.41" height="9.98" fill="#fbd3bc"/>
<rect x="128.19" y="408.5" width="13.41" height="9.98" fill="#fbd7c2"/>
<rect x="141.61" y="408.5" width="13.41" height="9.98" fill="#f6ac88"/>
<rect x="155.02" y="408.5" width="13.41" height="9.98" fill="#faddcc"/>
<rect x="168.43" y="408.5" width="13.41" height="9.98" fill="#4894cc"/>
<rect x="181.85" y="408.5" width="13.41" height="9.98" fill="#0a2a60"/>
<rect x="195.26" y="408.5" width="13.41" height="9.98" fill="#d8e4ee"/>
<rect x="208.67" y="408.5" width="13.41" height="9.98" fill="#6aaad6"/>
<rect x="222.09" y="408.5" width="13.41" height="9.98" fill="#3981bf"/>
<text transform="translate(236.8,415.9) scale(0.82,1)" font-size="6.5">1-Methylnicotinamide</text>
<rect x="34.3" y="418.48" width="13.41" height="9.98" fill="#d65446"/>
<rect x="47.71" y="418.48" width="13.41" height="9.98" fill="#e77d63"/>
<rect x="61.13" y="418.48" width="13.41" height="9.98" fill="#f8bb9d"/>
<rect x="74.54" y="418.48" width="13.41" height="9.98" fill="#e98266"/>
<rect x="87.95" y="418.48" width="13.41" height="9.98" fill="#f6b18f"/>
<rect x="101.37" y="418.48" width="13.41" height="9.98" fill="#e2e2e4"/>
<rect x="114.78" y="418.48" width="13.41" height="9.98" fill="#f1e0d8"/>
<rect x="128.19" y="418.48" width="13.41" height="9.98" fill="#fbd7c2"/>
<rect x="141.61" y="418.48" width="13.41" height="9.98" fill="#f29978"/>
<rect x="155.02" y="418.48" width="13.41" height="9.98" fill="#e0e2e6"/>
<rect x="168.43" y="418.48" width="13.41" height="9.98" fill="#b1d4ea"/>
<rect x="181.85" y="418.48" width="13.41" height="9.98" fill="#2062ac"/>
<rect x="195.26" y="418.48" width="13.41" height="9.98" fill="#64a6d4"/>
<rect x="208.67" y="418.48" width="13.41" height="9.98" fill="#4894cc"/>
<rect x="222.09" y="418.48" width="13.41" height="9.98" fill="#3981bf"/>
<text transform="translate(236.8,425.4) scale(0.82,1)" font-size="6.5">2-Ketohexanoic aci</text>
<rect x="34.3" y="428.46" width="13.41" height="9.98" fill="#f09070"/>
<rect x="47.71" y="428.46" width="13.41" height="9.98" fill="#e2735c"/>
<rect x="61.13" y="428.46" width="13.41" height="9.98" fill="#f39e7c"/>
<rect x="74.54" y="428.46" width="13.41" height="9.98" fill="#f09070"/>
<rect x="87.95" y="428.46" width="13.41" height="9.98" fill="#f39e7c"/>
<rect x="101.37" y="428.46" width="13.41" height="9.98" fill="#dbe3eb"/>
<rect x="114.78" y="428.46" width="13.41" height="9.98" fill="#e2e2e4"/>
<rect x="128.19" y="428.46" width="13.41" height="9.98" fill="#fcdcc8"/>
<rect x="141.61" y="428.46" width="13.41" height="9.98" fill="#e98266"/>
<rect x="155.02" y="428.46" width="13.41" height="9.98" fill="#f6ac88"/>
<rect x="168.43" y="428.46" width="13.41" height="9.98" fill="#4894cc"/>
<rect x="181.85" y="428.46" width="13.41" height="9.98" fill="#2c71b4"/>
<rect x="195.26" y="428.46" width="13.41" height="9.98" fill="#599fd1"/>
<rect x="208.67" y="428.46" width="13.41" height="9.98" fill="#4894cc"/>
<rect x="222.09" y="428.46" width="13.41" height="9.98" fill="#4894cc"/>
<text transform="translate(236.8,436.3) scale(0.82,1)" font-size="6.5">L-Glutamine</text>
<rect x="34.3" y="438.44" width="13.41" height="9.98" fill="#d95c4c"/>
<rect x="47.71" y="438.44" width="13.41" height="9.98" fill="#df6b56"/>
<rect x="61.13" y="438.44" width="13.41" height="9.98" fill="#f4e0d6"/>
<rect x="74.54" y="438.44" width="13.41" height="9.98" fill="#f19574"/>
<rect x="87.95" y="438.44" width="13.41" height="9.98" fill="#f39e7c"/>
<rect x="101.37" y="438.44" width="13.41" height="9.98" fill="#fcdcc8"/>
<rect x="114.78" y="438.44" width="13.41" height="9.98" fill="#f1e0d8"/>
<rect x="128.19" y="438.44" width="13.41" height="9.98" fill="#eee1db"/>
<rect x="141.61" y="438.44" width="13.41" height="9.98" fill="#e77d63"/>
<rect x="155.02" y="438.44" width="13.41" height="9.98" fill="#f6ac88"/>
<rect x="168.43" y="438.44" width="13.41" height="9.98" fill="#81b9dc"/>
<rect x="181.85" y="438.44" width="13.41" height="9.98" fill="#367dbb"/>
<rect x="195.26" y="438.44" width="13.41" height="9.98" fill="#4894cc"/>
<rect x="208.67" y="438.44" width="13.41" height="9.98" fill="#418bc5"/>
<rect x="222.09" y="438.44" width="13.41" height="9.98" fill="#4894cc"/>
<text transform="translate(236.8,446.3) scale(0.82,1)" font-size="6.5">L-Lysine</text>
<rect x="34.3" y="448.42" width="13.41" height="9.98" fill="#599fd1"/>
<rect x="47.71" y="448.42" width="13.41" height="9.98" fill="#92c4e0"/>
<rect x="61.13" y="448.42" width="13.41" height="9.98" fill="#2c71b4"/>
<rect x="74.54" y="448.42" width="13.41" height="9.98" fill="#92c4e0"/>
<rect x="87.95" y="448.42" width="13.41" height="9.98" fill="#4894cc"/>
<rect x="101.37" y="448.42" width="13.41" height="9.98" fill="#c0dcee"/>
<rect x="114.78" y="448.42" width="13.41" height="9.98" fill="#c0dcee"/>
<rect x="128.19" y="448.42" width="13.41" height="9.98" fill="#bbdaec"/>
<rect x="141.61" y="448.42" width="13.41" height="9.98" fill="#fcdcc8"/>
<rect x="155.02" y="448.42" width="13.41" height="9.98" fill="#c0dcee"/>
<rect x="168.43" y="448.42" width="13.41" height="9.98" fill="#fbd3bc"/>
<rect x="181.85" y="448.42" width="13.41" height="9.98" fill="#d65446"/>
<rect x="195.26" y="448.42" width="13.41" height="9.98" fill="#d95c4c"/>
<rect x="208.67" y="448.42" width="13.41" height="9.98" fill="#df6b56"/>
<rect x="222.09" y="448.42" width="13.41" height="9.98" fill="#cf4640"/>
<text transform="translate(236.8,455.6) scale(0.82,1)" font-size="6.5">N-Acetyl-L-asparti</text>
<rect x="34.3" y="458.4" width="13.41" height="9.98" fill="#bbdaec"/>
<rect x="47.71" y="458.4" width="13.41" height="9.98" fill="#f1e0d8"/>
<rect x="61.13" y="458.4" width="13.41" height="9.98" fill="#9dcae4"/>
<rect x="74.54" y="458.4" width="13.41" height="9.98" fill="#81b9dc"/>
<rect x="87.95" y="458.4" width="13.41" height="9.98" fill="#bbdaec"/>
<rect x="101.37" y="458.4" width="13.41" height="9.98" fill="#367dbb"/>
<rect x="114.78" y="458.4" width="13.41" height="9.98" fill="#9dcae4"/>
<rect x="128.19" y="458.4" width="13.41" height="9.98" fill="#70aed8"/>
<rect x="141.61" y="458.4" width="13.41" height="9.98" fill="#4894cc"/>
<rect x="155.02" y="458.4" width="13.41" height="9.98" fill="#fbd7c2"/>
<rect x="168.43" y="458.4" width="13.41" height="9.98" fill="#b11a2d"/>
<rect x="181.85" y="458.4" width="13.41" height="9.98" fill="#e98266"/>
<rect x="195.26" y="458.4" width="13.41" height="9.98" fill="#e2735c"/>
<rect x="208.67" y="458.4" width="13.41" height="9.98" fill="#e2735c"/>
<rect x="222.09" y="458.4" width="13.41" height="9.98" fill="#e98266"/>
<text transform="translate(236.8,465.5) scale(0.82,1)" font-size="6.5">Gamma-Aminobutyric</text>
<rect x="34.3" y="468.38" width="13.41" height="9.98" fill="#4894cc"/>
<rect x="47.71" y="468.38" width="13.41" height="9.98" fill="#599fd1"/>
<rect x="61.13" y="468.38" width="13.41" height="9.98" fill="#3981bf"/>
<rect x="74.54" y="468.38" width="13.41" height="9.98" fill="#4894cc"/>
<rect x="87.95" y="468.38" width="13.41" height="9.98" fill="#3981bf"/>
<rect x="101.37" y="468.38" width="13.41" height="9.98" fill="#f09070"/>
<rect x="114.78" y="468.38" width="13.41" height="9.98" fill="#e98266"/>
<rect x="128.19" y="468.38" width="13.41" height="9.98" fill="#f09070"/>
<rect x="141.61" y="468.38" width="13.41" height="9.98" fill="#cf4640"/>
<rect x="155.02" y="468.38" width="13.41" height="9.98" fill="#e98266"/>
<rect x="168.43" y="468.38" width="13.41" height="9.98" fill="#dbe3eb"/>
<rect x="181.85" y="468.38" width="13.41" height="9.98" fill="#f09070"/>
<rect x="195.26" y="468.38" width="13.41" height="9.98" fill="#fcdcc8"/>
<rect x="208.67" y="468.38" width="13.41" height="9.98" fill="#d4e3ee"/>
<rect x="222.09" y="468.38" width="13.41" height="9.98" fill="#fbd7c2"/>
<text transform="translate(236.8,475.1) scale(0.82,1)" font-size="6.5">Propionylcarnitine</text>
<rect x="34.3" y="478.36" width="13.41" height="9.98" fill="#92c4e0"/>
<rect x="47.71" y="478.36" width="13.41" height="9.98" fill="#d0e1ee"/>
<rect x="61.13" y="478.36" width="13.41" height="9.98" fill="#2062ac"/>
<rect x="74.54" y="478.36" width="13.41" height="9.98" fill="#c0dcee"/>
<rect x="87.95" y="478.36" width="13.41" height="9.98" fill="#599fd1"/>
<rect x="101.37" y="478.36" width="13.41" height="9.98" fill="#f09070"/>
<rect x="114.78" y="478.36" width="13.41" height="9.98" fill="#e77d63"/>
<rect x="128.19" y="478.36" width="13.41" height="9.98" fill="#e98266"/>
<rect x="141.61" y="478.36" width="13.41" height="9.98" fill="#b61c2e"/>
<rect x="155.02" y="478.36" width="13.41" height="9.98" fill="#d85849"/>
<rect x="168.43" y="478.36" width="13.41" height="9.98" fill="#8cc0df"/>
<rect x="181.85" y="478.36" width="13.41" height="9.98" fill="#e2e2e4"/>
<rect x="195.26" y="478.36" width="13.41" height="9.98" fill="#c4ddee"/>
<rect x="208.67" y="478.36" width="13.41" height="9.98" fill="#f1e0d8"/>
<rect x="222.09" y="478.36" width="13.41" height="9.98" fill="#dbe3eb"/>
<text transform="translate(236.8,484.7) scale(0.82,1)" font-size="6.5">Dimethylglycine</text>
<rect x="34.3" y="488.34" width="13.41" height="9.98" fill="#64a6d4"/>
<rect x="47.71" y="488.34" width="13.41" height="9.98" fill="#dbe3eb"/>
<rect x="61.13" y="488.34" width="13.41" height="9.98" fill="#4894cc"/>
<rect x="74.54" y="488.34" width="13.41" height="9.98" fill="#0e4a8e"/>
<rect x="87.95" y="488.34" width="13.41" height="9.98" fill="#2062ac"/>
<rect x="101.37" y="488.34" width="13.41" height="9.98" fill="#fbd3bc"/>
<rect x="114.78" y="488.34" width="13.41" height="9.98" fill="#f8bb9d"/>
<rect x="128.19" y="488.34" width="13.41" height="9.98" fill="#fbd3bc"/>
<rect x="141.61" y="488.34" width="13.41" height="9.98" fill="#f6ac88"/>
<rect x="155.02" y="488.34" width="13.41" height="9.98" fill="#f29978"/>
<rect x="168.43" y="488.34" width="13.41" height="9.98" fill="#fcdcc8"/>
<rect x="181.85" y="488.34" width="13.41" height="9.98" fill="#f6ac88"/>
<rect x="195.26" y="488.34" width="13.41" height="9.98" fill="#f7b696"/>
<rect x="208.67" y="488.34" width="13.41" height="9.98" fill="#f5a784"/>
<rect x="222.09" y="488.34" width="13.41" height="9.98" fill="#f5a784"/>
<text transform="translate(236.8,495.2) scale(0.82,1)" font-size="6.5">L-Alanine</text>
<rect x="34.3" y="498.32" width="13.41" height="9.98" fill="#64a6d4"/>
<rect x="47.71" y="498.32" width="13.41" height="9.98" fill="#64a6d4"/>
<rect x="61.13" y="498.32" width="13.41" height="9.98" fill="#3981bf"/>
<rect x="74.54" y="498.32" width="13.41" height="9.98" fill="#3981bf"/>
<rect x="87.95" y="498.32" width="13.41" height="9.98" fill="#3278b8"/>
<rect x="101.37" y="498.32" width="13.41" height="9.98" fill="#f8decf"/>
<rect x="114.78" y="498.32" width="13.41" height="9.98" fill="#fbd3bc"/>
<rect x="128.19" y="498.32" width="13.41" height="9.98" fill="#f9c9b0"/>
<rect x="141.61" y="498.32" width="13.41" height="9.98" fill="#f6b18f"/>
<rect x="155.02" y="498.32" width="13.41" height="9.98" fill="#f6ac88"/>
<rect x="168.43" y="498.32" width="13.41" height="9.98" fill="#e5e2e2"/>
<rect x="181.85" y="498.32" width="13.41" height="9.98" fill="#d95c4c"/>
<rect x="195.26" y="498.32" width="13.41" height="9.98" fill="#f7b696"/>
<rect x="208.67" y="498.32" width="13.41" height="9.98" fill="#f19574"/>
<rect x="222.09" y="498.32" width="13.41" height="9.98" fill="#e77d63"/>
<text transform="translate(236.8,505.1) scale(0.82,1)" font-size="6.5">L-Acetylcarnitine</text>
<rect x="34.3" y="508.3" width="13.41" height="9.98" fill="#92c4e0"/>
<rect x="47.71" y="508.3" width="13.41" height="9.98" fill="#4894cc"/>
<rect x="61.13" y="508.3" width="13.41" height="9.98" fill="#4894cc"/>
<rect x="74.54" y="508.3" width="13.41" height="9.98" fill="#4894cc"/>
<rect x="87.95" y="508.3" width="13.41" height="9.98" fill="#296db2"/>
<rect x="101.37" y="508.3" width="13.41" height="9.98" fill="#e2e2e4"/>
<rect x="114.78" y="508.3" width="13.41" height="9.98" fill="#fbd7c2"/>
<rect x="128.19" y="508.3" width="13.41" height="9.98" fill="#fcdcc8"/>
<rect x="141.61" y="508.3" width="13.41" height="9.98" fill="#f29978"/>
<rect x="155.02" y="508.3" width="13.41" height="9.98" fill="#f19574"/>
<rect x="168.43" y="508.3" width="13.41" height="9.98" fill="#e2e2e4"/>
<rect x="181.85" y="508.3" width="13.41" height="9.98" fill="#d65446"/>
<rect x="195.26" y="508.3" width="13.41" height="9.98" fill="#f9c9b0"/>
<rect x="208.67" y="508.3" width="13.41" height="9.98" fill="#ee8b6d"/>
<rect x="222.09" y="508.3" width="13.41" height="9.98" fill="#df6b56"/>
<text transform="translate(236.8,514.8) scale(0.82,1)" font-size="6.5">L-Lactic acid</text>
<rect x="34.3" y="518.28" width="13.41" height="9.98" fill="#4894cc"/>
<rect x="47.71" y="518.28" width="13.41" height="9.98" fill="#296db2"/>
<rect x="61.13" y="518.28" width="13.41" height="9.98" fill="#3278b8"/>
<rect x="74.54" y="518.28" width="13.41" height="9.98" fill="#599fd1"/>
<rect x="87.95" y="518.28" width="13.41" height="9.98" fill="#599fd1"/>
<rect x="101.37" y="518.28" width="13.41" height="9.98" fill="#f7b696"/>
<rect x="114.78" y="518.28" width="13.41" height="9.98" fill="#f5a784"/>
<rect x="128.19" y="518.28" width="13.41" height="9.98" fill="#f7b696"/>
<rect x="141.61" y="518.28" width="13.41" height="9.98" fill="#f6ac88"/>
<rect x="155.02" y="518.28" width="13.41" height="9.98" fill="#ee8b6d"/>
<rect x="168.43" y="518.28" width="13.41" height="9.98" fill="#f6b18f"/>
<rect x="181.85" y="518.28" width="13.41" height="9.98" fill="#f9c9b0"/>
<rect x="195.26" y="518.28" width="13.41" height="9.98" fill="#f8bb9d"/>
<rect x="208.67" y="518.28" width="13.41" height="9.98" fill="#f7b696"/>
<rect x="222.09" y="518.28" width="13.41" height="9.98" fill="#f8bb9d"/>
<text transform="translate(236.8,524.8) scale(0.82,1)" font-size="6.5">Xanthylic acid</text>
<rect x="34.3" y="528.26" width="13.41" height="9.98" fill="#64a6d4"/>
<rect x="47.71" y="528.26" width="13.41" height="9.98" fill="#418bc5"/>
<rect x="61.13" y="528.26" width="13.41" height="9.98" fill="#296db2"/>
<rect x="74.54" y="528.26" width="13.41" height="9.98" fill="#2062ac"/>
<rect x="87.95" y="528.26" width="13.41" height="9.98" fill="#70aed8"/>
<rect x="101.37" y="528.26" width="13.41" height="9.98" fill="#f7b696"/>
<rect x="114.78" y="528.26" width="13.41" height="9.98" fill="#f8bb9d"/>
<rect x="128.19" y="528.26" width="13.41" height="9.98" fill="#f8bb9d"/>
<rect x="141.61" y="528.26" width="13.41" height="9.98" fill="#f6ac88"/>
<rect x="155.02" y="528.26" width="13.41" height="9.98" fill="#f8bb9d"/>
<rect x="168.43" y="528.26" width="13.41" height="9.98" fill="#f6b18f"/>
<rect x="181.85" y="528.26" width="13.41" height="9.98" fill="#f29978"/>
<rect x="195.26" y="528.26" width="13.41" height="9.98" fill="#f9c9b0"/>
<rect x="208.67" y="528.26" width="13.41" height="9.98" fill="#f6b18f"/>
<rect x="222.09" y="528.26" width="13.41" height="9.98" fill="#f6b18f"/>
<text transform="translate(236.8,535.2) scale(0.82,1)" font-size="6.5">Falvin Mononucleot</text>
<rect x="34.3" y="538.24" width="13.41" height="9.98" fill="#418bc5"/>
<rect x="47.71" y="538.24" width="13.41" height="9.98" fill="#418bc5"/>
<rect x="61.13" y="538.24" width="13.41" height="9.98" fill="#3981bf"/>
<rect x="74.54" y="538.24" width="13.41" height="9.98" fill="#418bc5"/>
<rect x="87.95" y="538.24" width="13.41" height="9.98" fill="#3981bf"/>
<rect x="101.37" y="538.24" width="13.41" height="9.98" fill="#f7b696"/>
<rect x="114.78" y="538.24" width="13.41" height="9.98" fill="#f6b18f"/>
<rect x="128.19" y="538.24" width="13.41" height="9.98" fill="#f7b696"/>
<rect x="141.61" y="538.24" width="13.41" height="9.98" fill="#f6ac88"/>
<rect x="155.02" y="538.24" width="13.41" height="9.98" fill="#f6ac88"/>
<rect x="168.43" y="538.24" width="13.41" height="9.98" fill="#fcdcc8"/>
<rect x="181.85" y="538.24" width="13.41" height="9.98" fill="#f39e7c"/>
<rect x="195.26" y="538.24" width="13.41" height="9.98" fill="#f8bb9d"/>
<rect x="208.67" y="538.24" width="13.41" height="9.98" fill="#f6b18f"/>
<rect x="222.09" y="538.24" width="13.41" height="9.98" fill="#f5a784"/>
<text transform="translate(236.8,544.8) scale(0.82,1)" font-size="6.5">Xanthosine</text>
<rect x="34.3" y="548.22" width="13.41" height="9.98" fill="#4894cc"/>
<rect x="47.71" y="548.22" width="13.41" height="9.98" fill="#70aed8"/>
<rect x="61.13" y="548.22" width="13.41" height="9.98" fill="#2c71b4"/>
<rect x="74.54" y="548.22" width="13.41" height="9.98" fill="#4894cc"/>
<rect x="87.95" y="548.22" width="13.41" height="9.98" fill="#296db2"/>
<rect x="101.37" y="548.22" width="13.41" height="9.98" fill="#f8bb9d"/>
<rect x="114.78" y="548.22" width="13.41" height="9.98" fill="#f8bb9d"/>
<rect x="128.19" y="548.22" width="13.41" height="9.98" fill="#f8bb9d"/>
<rect x="141.61" y="548.22" width="13.41" height="9.98" fill="#f19574"/>
<rect x="155.02" y="548.22" width="13.41" height="9.98" fill="#f29978"/>
<rect x="168.43" y="548.22" width="13.41" height="9.98" fill="#f9c9b0"/>
<rect x="181.85" y="548.22" width="13.41" height="9.98" fill="#f19574"/>
<rect x="195.26" y="548.22" width="13.41" height="9.98" fill="#f8bb9d"/>
<rect x="208.67" y="548.22" width="13.41" height="9.98" fill="#faceb6"/>
<rect x="222.09" y="548.22" width="13.41" height="9.98" fill="#f6ac88"/>
<text transform="translate(236.8,554.8) scale(0.82,1)" font-size="6.5">Nicotinic acid</text>
<rect x="34.3" y="558.2" width="13.41" height="9.98" fill="#4894cc"/>
<rect x="47.71" y="558.2" width="13.41" height="9.98" fill="#4894cc"/>
<rect x="61.13" y="558.2" width="13.41" height="9.98" fill="#3278b8"/>
<rect x="74.54" y="558.2" width="13.41" height="9.98" fill="#3981bf"/>
<rect x="87.95" y="558.2" width="13.41" height="9.98" fill="#3981bf"/>
<rect x="101.37" y="558.2" width="13.41" height="9.98" fill="#fbd7c2"/>
<rect x="114.78" y="558.2" width="13.41" height="9.98" fill="#f6b18f"/>
<rect x="128.19" y="558.2" width="13.41" height="9.98" fill="#faceb6"/>
<rect x="141.61" y="558.2" width="13.41" height="9.98" fill="#f6b18f"/>
<rect x="155.02" y="558.2" width="13.41" height="9.98" fill="#f6b18f"/>
<rect x="168.43" y="558.2" width="13.41" height="9.98" fill="#f19574"/>
<rect x="181.85" y="558.2" width="13.41" height="9.98" fill="#f19574"/>
<rect x="195.26" y="558.2" width="13.41" height="9.98" fill="#f8bb9d"/>
<rect x="208.67" y="558.2" width="13.41" height="9.98" fill="#f19574"/>
<rect x="222.09" y="558.2" width="13.41" height="9.98" fill="#f19574"/>
<text transform="translate(236.8,564.9) scale(0.82,1)" font-size="6.5">Nicotinate D-ribon</text>
<rect x="34.3" y="568.18" width="13.41" height="9.98" fill="#4894cc"/>
<rect x="47.71" y="568.18" width="13.41" height="9.98" fill="#599fd1"/>
<rect x="61.13" y="568.18" width="13.41" height="9.98" fill="#296db2"/>
<rect x="74.54" y="568.18" width="13.41" height="9.98" fill="#418bc5"/>
<rect x="87.95" y="568.18" width="13.41" height="9.98" fill="#3981bf"/>
<rect x="101.37" y="568.18" width="13.41" height="9.98" fill="#faceb6"/>
<rect x="114.78" y="568.18" width="13.41" height="9.98" fill="#f6ac88"/>
<rect x="128.19" y="568.18" width="13.41" height="9.98" fill="#faceb6"/>
<rect x="141.61" y="568.18" width="13.41" height="9.98" fill="#e2735c"/>
<rect x="155.02" y="568.18" width="13.41" height="9.98" fill="#fcdcc8"/>
<rect x="168.43" y="568.18" width="13.41" height="9.98" fill="#faceb6"/>
<rect x="181.85" y="568.18" width="13.41" height="9.98" fill="#e77d63"/>
<rect x="195.26" y="568.18" width="13.41" height="9.98" fill="#f6b18f"/>
<rect x="208.67" y="568.18" width="13.41" height="9.98" fill="#f09070"/>
<rect x="222.09" y="568.18" width="13.41" height="9.98" fill="#f6b18f"/>
<text transform="translate(236.8,575) scale(0.82,1)" font-size="6.5">Thiamine pyrophosp</text>
<rect x="34.3" y="578.16" width="13.41" height="9.98" fill="#3981bf"/>
<rect x="47.71" y="578.16" width="13.41" height="9.98" fill="#418bc5"/>
<rect x="61.13" y="578.16" width="13.41" height="9.98" fill="#3278b8"/>
<rect x="74.54" y="578.16" width="13.41" height="9.98" fill="#64a6d4"/>
<rect x="87.95" y="578.16" width="13.41" height="9.98" fill="#599fd1"/>
<rect x="101.37" y="578.16" width="13.41" height="9.98" fill="#e5e2e2"/>
<rect x="114.78" y="578.16" width="13.41" height="9.98" fill="#fbd7c2"/>
<rect x="128.19" y="578.16" width="13.41" height="9.98" fill="#f6dfd2"/>
<rect x="141.61" y="578.16" width="13.41" height="9.98" fill="#fbd7c2"/>
<rect x="155.02" y="578.16" width="13.41" height="9.98" fill="#fcdcc8"/>
<rect x="168.43" y="578.16" width="13.41" height="9.98" fill="#ee8b6d"/>
<rect x="181.85" y="578.16" width="13.41" height="9.98" fill="#e77d63"/>
<rect x="195.26" y="578.16" width="13.41" height="9.98" fill="#f39e7c"/>
<rect x="208.67" y="578.16" width="13.41" height="9.98" fill="#e77d63"/>
<rect x="222.09" y="578.16" width="13.41" height="9.98" fill="#e77d63"/>
<text transform="translate(236.8,585.3) scale(0.82,1)" font-size="6.5">Nicotinic acid ade</text>
<rect x="34.3" y="588.14" width="13.41" height="9.98" fill="#64a6d4"/>
<rect x="47.71" y="588.14" width="13.41" height="9.98" fill="#70aed8"/>
<rect x="61.13" y="588.14" width="13.41" height="9.98" fill="#418bc5"/>
<rect x="74.54" y="588.14" width="13.41" height="9.98" fill="#3981bf"/>
<rect x="87.95" y="588.14" width="13.41" height="9.98" fill="#2062ac"/>
<rect x="101.37" y="588.14" width="13.41" height="9.98" fill="#e5e2e2"/>
<rect x="114.78" y="588.14" width="13.41" height="9.98" fill="#fbd7c2"/>
<rect x="128.19" y="588.14" width="13.41" height="9.98" fill="#fbd7c2"/>
<rect x="141.61" y="588.14" width="13.41" height="9.98" fill="#f6b18f"/>
<rect x="155.02" y="588.14" width="13.41" height="9.98" fill="#d85849"/>
<rect x="168.43" y="588.14" width="13.41" height="9.98" fill="#f29978"/>
<rect x="181.85" y="588.14" width="13.41" height="9.98" fill="#ee8b6d"/>
<rect x="195.26" y="588.14" width="13.41" height="9.98" fill="#faceb6"/>
<rect x="208.67" y="588.14" width="13.41" height="9.98" fill="#f7b696"/>
<rect x="222.09" y="588.14" width="13.41" height="9.98" fill="#f5a784"/>
<text transform="translate(236.8,594.6) scale(0.82,1)" font-size="6.5">L-Acetylcarnitine</text>
<rect x="34.3" y="598.12" width="13.41" height="9.98" fill="#4894cc"/>
<rect x="47.71" y="598.12" width="13.41" height="9.98" fill="#2c71b4"/>
<rect x="61.13" y="598.12" width="13.41" height="9.98" fill="#418bc5"/>
<rect x="74.54" y="598.12" width="13.41" height="9.98" fill="#92c4e0"/>
<rect x="87.95" y="598.12" width="13.41" height="9.98" fill="#418bc5"/>
<rect x="101.37" y="598.12" width="13.41" height="9.98" fill="#f1e0d8"/>
<rect x="114.78" y="598.12" width="13.41" height="9.98" fill="#f8decf"/>
<rect x="128.19" y="598.12" width="13.41" height="9.98" fill="#faddcc"/>
<rect x="141.61" y="598.12" width="13.41" height="9.98" fill="#f6ac88"/>
<rect x="155.02" y="598.12" width="13.41" height="9.98" fill="#f39e7c"/>
<rect x="168.43" y="598.12" width="13.41" height="9.98" fill="#ac182b"/>
<rect x="181.85" y="598.12" width="13.41" height="9.98" fill="#f8bb9d"/>
<rect x="195.26" y="598.12" width="13.41" height="9.98" fill="#faceb6"/>
<rect x="208.67" y="598.12" width="13.41" height="9.98" fill="#f6b18f"/>
<rect x="222.09" y="598.12" width="13.41" height="9.98" fill="#f6b18f"/>
<text transform="translate(236.8,604.2) scale(0.82,1)" font-size="6.5">Nicotinic acid mon</text>
<line x1="34.3" y1="358.6" x2="235.5" y2="358.6" stroke="#a3a3a3" stroke-width="0.9"/>
<line x1="34.3" y1="368.58" x2="235.5" y2="368.58" stroke="#a3a3a3" stroke-width="0.9"/>
<line x1="34.3" y1="378.56" x2="235.5" y2="378.56" stroke="#a3a3a3" stroke-width="0.9"/>
<line x1="34.3" y1="388.54" x2="235.5" y2="388.54" stroke="#a3a3a3" stroke-width="0.9"/>
<line x1="34.3" y1="398.52" x2="235.5" y2="398.52" stroke="#a3a3a3" stroke-width="0.9"/>
<line x1="34.3" y1="408.5" x2="235.5" y2="408.5" stroke="#a3a3a3" stroke-width="0.9"/>
<line x1="34.3" y1="418.48" x2="235.5" y2="418.48" stroke="#a3a3a3" stroke-width="0.9"/>
<line x1="34.3" y1="428.46" x2="235.5" y2="428.46" stroke="#a3a3a3" stroke-width="0.9"/>
<line x1="34.3" y1="438.44" x2="235.5" y2="438.44" stroke="#a3a3a3" stroke-width="0.9"/>
<line x1="34.3" y1="448.42" x2="235.5" y2="448.42" stroke="#a3a3a3" stroke-width="0.9"/>
<line x1="34.3" y1="458.4" x2="235.5" y2="458.4" stroke="#a3a3a3" stroke-width="0.9"/>
<line x1="34.3" y1="468.38" x2="235.5" y2="468.38" stroke="#a3a3a3" stroke-width="0.9"/>
<line x1="34.3" y1="478.36" x2="235.5" y2="478.36" stroke="#a3a3a3" stroke-width="0.9"/>
<line x1="34.3" y1="488.34" x2="235.5" y2="488.34" stroke="#a3a3a3" stroke-width="0.9"/>
<line x1="34.3" y1="498.32" x2="235.5" y2="498.32" stroke="#a3a3a3" stroke-width="0.9"/>
<line x1="34.3" y1="508.3" x2="235.5" y2="508.3" stroke="#a3a3a3" stroke-width="0.9"/>
<line x1="34.3" y1="518.28" x2="235.5" y2="518.28" stroke="#a3a3a3" stroke-width="0.9"/>
<line x1="34.3" y1="528.26" x2="235.5" y2="528.26" stroke="#a3a3a3" stroke-width="0.9"/>
<line x1="34.3" y1="538.24" x2="235.5" y2="538.24" stroke="#a3a3a3" stroke-width="0.9"/>
<line x1="34.3" y1="548.22" x2="235.5" y2="548.22" stroke="#a3a3a3" stroke-width="0.9"/>
<line x1="34.3" y1="558.2" x2="235.5" y2="558.2" stroke="#a3a3a3" stroke-width="0.9"/>
<line x1="34.3" y1="568.18" x2="235.5" y2="568.18" stroke="#a3a3a3" stroke-width="0.9"/>
<line x1="34.3" y1="578.16" x2="235.5" y2="578.16" stroke="#a3a3a3" stroke-width="0.9"/>
<line x1="34.3" y1="588.14" x2="235.5" y2="588.14" stroke="#a3a3a3" stroke-width="0.9"/>
<line x1="34.3" y1="598.12" x2="235.5" y2="598.12" stroke="#a3a3a3" stroke-width="0.9"/>
<line x1="34.3" y1="608.1" x2="235.5" y2="608.1" stroke="#a3a3a3" stroke-width="0.9"/>
<line x1="34.3" y1="358.6" x2="34.3" y2="608.1" stroke="#a3a3a3" stroke-width="0.9"/>
<line x1="47.71" y1="358.6" x2="47.71" y2="608.1" stroke="#a3a3a3" stroke-width="0.9"/>
<line x1="61.13" y1="358.6" x2="61.13" y2="608.1" stroke="#a3a3a3" stroke-width="0.9"/>
<line x1="74.54" y1="358.6" x2="74.54" y2="608.1" stroke="#a3a3a3" stroke-width="0.9"/>
<line x1="87.95" y1="358.6" x2="87.95" y2="608.1" stroke="#a3a3a3" stroke-width="0.9"/>
<line x1="101.37" y1="358.6" x2="101.37" y2="608.1" stroke="#a3a3a3" stroke-width="0.9"/>
<line x1="114.78" y1="358.6" x2="114.78" y2="608.1" stroke="#a3a3a3" stroke-width="0.9"/>
<line x1="128.19" y1="358.6" x2="128.19" y2="608.1" stroke="#a3a3a3" stroke-width="0.9"/>
<line x1="141.61" y1="358.6" x2="141.61" y2="608.1" stroke="#a3a3a3" stroke-width="0.9"/>
<line x1="155.02" y1="358.6" x2="155.02" y2="608.1" stroke="#a3a3a3" stroke-width="0.9"/>
<line x1="168.43" y1="358.6" x2="168.43" y2="608.1" stroke="#a3a3a3" stroke-width="0.9"/>
<line x1="181.85" y1="358.6" x2="181.85" y2="608.1" stroke="#a3a3a3" stroke-width="0.9"/>
<line x1="195.26" y1="358.6" x2="195.26" y2="608.1" stroke="#a3a3a3" stroke-width="0.9"/>
<line x1="208.67" y1="358.6" x2="208.67" y2="608.1" stroke="#a3a3a3" stroke-width="0.9"/>
<line x1="222.09" y1="358.6" x2="222.09" y2="608.1" stroke="#a3a3a3" stroke-width="0.9"/>
<line x1="235.5" y1="358.6" x2="235.5" y2="608.1" stroke="#a3a3a3" stroke-width="0.9"/>
<rect x="34.3" y="352.1" width="13.41" height="4.9" fill="#ea1242"/>
<rect x="47.71" y="352.1" width="13.41" height="4.9" fill="#ea1242"/>
<rect x="61.13" y="352.1" width="13.41" height="4.9" fill="#ea1242"/>
<rect x="74.54" y="352.1" width="13.41" height="4.9" fill="#ea1242"/>
<rect x="87.95" y="352.1" width="13.41" height="4.9" fill="#ea1242"/>
<rect x="101.37" y="352.1" width="13.41" height="4.9" fill="#22bb36"/>
<rect x="114.78" y="352.1" width="13.41" height="4.9" fill="#22bb36"/>
<rect x="128.19" y="352.1" width="13.41" height="4.9" fill="#22bb36"/>
<rect x="141.61" y="352.1" width="13.41" height="4.9" fill="#22bb36"/>
<rect x="155.02" y="352.1" width="13.41" height="4.9" fill="#22bb36"/>
<rect x="168.43" y="352.1" width="13.41" height="4.9" fill="#2246de"/>
<rect x="181.85" y="352.1" width="13.41" height="4.9" fill="#2246de"/>
<rect x="195.26" y="352.1" width="13.41" height="4.9" fill="#2246de"/>
<rect x="208.67" y="352.1" width="13.41" height="4.9" fill="#2246de"/>
<rect x="222.09" y="352.1" width="13.41" height="4.9" fill="#2246de"/>
<line x1="34.3" y1="352.1" x2="34.3" y2="357" stroke="#b0b0b0" stroke-width="0.7"/>
<line x1="47.71" y1="352.1" x2="47.71" y2="357" stroke="#b0b0b0" stroke-width="0.7"/>
<line x1="61.13" y1="352.1" x2="61.13" y2="357" stroke="#b0b0b0" stroke-width="0.7"/>
<line x1="74.54" y1="352.1" x2="74.54" y2="357" stroke="#b0b0b0" stroke-width="0.7"/>
<line x1="87.95" y1="352.1" x2="87.95" y2="357" stroke="#b0b0b0" stroke-width="0.7"/>
<line x1="101.37" y1="352.1" x2="101.37" y2="357" stroke="#b0b0b0" stroke-width="0.7"/>
<line x1="114.78" y1="352.1" x2="114.78" y2="357" stroke="#b0b0b0" stroke-width="0.7"/>
<line x1="128.19" y1="352.1" x2="128.19" y2="357" stroke="#b0b0b0" stroke-width="0.7"/>
<line x1="141.61" y1="352.1" x2="141.61" y2="357" stroke="#b0b0b0" stroke-width="0.7"/>
<line x1="155.02" y1="352.1" x2="155.02" y2="357" stroke="#b0b0b0" stroke-width="0.7"/>
<line x1="168.43" y1="352.1" x2="168.43" y2="357" stroke="#b0b0b0" stroke-width="0.7"/>
<line x1="181.85" y1="352.1" x2="181.85" y2="357" stroke="#b0b0b0" stroke-width="0.7"/>
<line x1="195.26" y1="352.1" x2="195.26" y2="357" stroke="#b0b0b0" stroke-width="0.7"/>
<line x1="208.67" y1="352.1" x2="208.67" y2="357" stroke="#b0b0b0" stroke-width="0.7"/>
<line x1="222.09" y1="352.1" x2="222.09" y2="357" stroke="#b0b0b0" stroke-width="0.7"/>
<line x1="235.5" y1="352.1" x2="235.5" y2="357" stroke="#b0b0b0" stroke-width="0.7"/>
<text x="236.8" y="356.6" font-size="4.6" font-weight="bold">class</text>
<text x="195.6" y="318.8" font-size="6" font-weight="bold">class</text>
<rect x="195.6" y="320.5" width="7.5" height="7.2" fill="#e21a48"/>
<rect x="195.6" y="327.7" width="7.5" height="7.7" fill="#3db04f"/>
<rect x="195.6" y="335.4" width="7.5" height="7.7" fill="#4466d6"/>
<text transform="translate(204.5,326.2) scale(0.9,1)" font-size="6.3">HMLE/FOXQ1 NT</text>
<text transform="translate(204.5,334.8) scale(0.9,1)" font-size="6.3">DDR2 sh3</text>
<text transform="translate(204.5,343) scale(0.9,1)" font-size="6.3">DDR2 sh6</text>
<line x1="41.01" y1="351.6" x2="41.01" y2="349.9" stroke="#2e2e2e" stroke-width="0.85"/>
<line x1="54.42" y1="351.6" x2="54.42" y2="349.9" stroke="#2e2e2e" stroke-width="0.85"/>
<line x1="41.01" y1="349.9" x2="54.42" y2="349.9" stroke="#2e2e2e" stroke-width="0.85"/>
<line x1="81.25" y1="351.6" x2="81.25" y2="350.2" stroke="#2e2e2e" stroke-width="0.85"/>
<line x1="94.66" y1="351.6" x2="94.66" y2="350.2" stroke="#2e2e2e" stroke-width="0.85"/>
<line x1="81.25" y1="350.2" x2="94.66" y2="350.2" stroke="#2e2e2e" stroke-width="0.85"/>
<line x1="67.83" y1="351.6" x2="67.83" y2="349.8" stroke="#2e2e2e" stroke-width="0.85"/>
<line x1="87.95" y1="350.2" x2="87.95" y2="349.8" stroke="#2e2e2e" stroke-width="0.85"/>
<line x1="67.83" y1="349.8" x2="87.95" y2="349.8" stroke="#2e2e2e" stroke-width="0.85"/>
<line x1="47.71" y1="349.9" x2="47.71" y2="348.6" stroke="#2e2e2e" stroke-width="0.85"/>
<line x1="77.89" y1="349.8" x2="77.89" y2="348.6" stroke="#2e2e2e" stroke-width="0.85"/>
<line x1="47.71" y1="348.6" x2="77.89" y2="348.6" stroke="#2e2e2e" stroke-width="0.85"/>
<line x1="121.49" y1="351.6" x2="121.49" y2="350.2" stroke="#2e2e2e" stroke-width="0.85"/>
<line x1="134.9" y1="351.6" x2="134.9" y2="350.2" stroke="#2e2e2e" stroke-width="0.85"/>
<line x1="121.49" y1="350.2" x2="134.9" y2="350.2" stroke="#2e2e2e" stroke-width="0.85"/>
<line x1="108.07" y1="351.6" x2="108.07" y2="349.6" stroke="#2e2e2e" stroke-width="0.85"/>
<line x1="128.19" y1="350.2" x2="128.19" y2="349.6" stroke="#2e2e2e" stroke-width="0.85"/>
<line x1="108.07" y1="349.6" x2="128.19" y2="349.6" stroke="#2e2e2e" stroke-width="0.85"/>
<line x1="148.31" y1="351.6" x2="148.31" y2="350" stroke="#2e2e2e" stroke-width="0.85"/>
<line x1="161.73" y1="351.6" x2="161.73" y2="350" stroke="#2e2e2e" stroke-width="0.85"/>
<line x1="148.31" y1="350" x2="161.73" y2="350" stroke="#2e2e2e" stroke-width="0.85"/>
<line x1="118.13" y1="349.6" x2="118.13" y2="349" stroke="#2e2e2e" stroke-width="0.85"/>
<line x1="155.02" y1="350" x2="155.02" y2="349" stroke="#2e2e2e" stroke-width="0.85"/>
<line x1="118.13" y1="349" x2="155.02" y2="349" stroke="#2e2e2e" stroke-width="0.85"/>
<line x1="215.38" y1="351.6" x2="215.38" y2="350.2" stroke="#2e2e2e" stroke-width="0.85"/>
<line x1="228.79" y1="351.6" x2="228.79" y2="350.2" stroke="#2e2e2e" stroke-width="0.85"/>
<line x1="215.38" y1="350.2" x2="228.79" y2="350.2" stroke="#2e2e2e" stroke-width="0.85"/>
<line x1="201.97" y1="351.6" x2="201.97" y2="349.8" stroke="#2e2e2e" stroke-width="0.85"/>
<line x1="222.09" y1="350.2" x2="222.09" y2="349.8" stroke="#2e2e2e" stroke-width="0.85"/>
<line x1="201.97" y1="349.8" x2="222.09" y2="349.8" stroke="#2e2e2e" stroke-width="0.85"/>
<line x1="188.55" y1="351.6" x2="188.55" y2="349.4" stroke="#2e2e2e" stroke-width="0.85"/>
<line x1="212.03" y1="349.8" x2="212.03" y2="349.4" stroke="#2e2e2e" stroke-width="0.85"/>
<line x1="188.55" y1="349.4" x2="212.03" y2="349.4" stroke="#2e2e2e" stroke-width="0.85"/>
<line x1="175.14" y1="351.6" x2="175.14" y2="348.2" stroke="#2e2e2e" stroke-width="0.85"/>
<line x1="200.29" y1="349.4" x2="200.29" y2="348.2" stroke="#2e2e2e" stroke-width="0.85"/>
<line x1="175.14" y1="348.2" x2="200.29" y2="348.2" stroke="#2e2e2e" stroke-width="0.85"/>
<line x1="136.58" y1="349" x2="136.58" y2="334.3" stroke="#2e2e2e" stroke-width="0.85"/>
<line x1="187.71" y1="348.2" x2="187.71" y2="334.3" stroke="#2e2e2e" stroke-width="0.85"/>
<line x1="136.58" y1="334.3" x2="187.71" y2="334.3" stroke="#2e2e2e" stroke-width="0.85"/>
<line x1="62.8" y1="348.6" x2="62.8" y2="318.5" stroke="#2e2e2e" stroke-width="0.85"/>
<line x1="162.15" y1="334.3" x2="162.15" y2="318.5" stroke="#2e2e2e" stroke-width="0.85"/>
<line x1="62.8" y1="318.5" x2="162.15" y2="318.5" stroke="#2e2e2e" stroke-width="0.85"/>
<line x1="34" y1="363.59" x2="32.6" y2="363.59" stroke="#2e2e2e" stroke-width="0.85"/>
<line x1="34" y1="373.57" x2="32.6" y2="373.57" stroke="#2e2e2e" stroke-width="0.85"/>
<line x1="32.6" y1="363.59" x2="32.6" y2="373.57" stroke="#2e2e2e" stroke-width="0.85"/>
<line x1="34" y1="413.49" x2="33.4" y2="413.49" stroke="#2e2e2e" stroke-width="0.85"/>
<line x1="34" y1="423.47" x2="33.4" y2="423.47" stroke="#2e2e2e" stroke-width="0.85"/>
<line x1="33.4" y1="413.49" x2="33.4" y2="423.47" stroke="#2e2e2e" stroke-width="0.85"/>
<line x1="34" y1="403.51" x2="33.1" y2="403.51" stroke="#2e2e2e" stroke-width="0.85"/>
<line x1="33.4" y1="418.48" x2="33.1" y2="418.48" stroke="#2e2e2e" stroke-width="0.85"/>
<line x1="33.1" y1="403.51" x2="33.1" y2="418.48" stroke="#2e2e2e" stroke-width="0.85"/>
<line x1="34" y1="393.53" x2="32.7" y2="393.53" stroke="#2e2e2e" stroke-width="0.85"/>
<line x1="33.1" y1="411" x2="32.7" y2="411" stroke="#2e2e2e" stroke-width="0.85"/>
<line x1="32.7" y1="393.53" x2="32.7" y2="411" stroke="#2e2e2e" stroke-width="0.85"/>
<line x1="34" y1="383.55" x2="32.2" y2="383.55" stroke="#2e2e2e" stroke-width="0.85"/>
<line x1="32.7" y1="402.26" x2="32.2" y2="402.26" stroke="#2e2e2e" stroke-width="0.85"/>
<line x1="32.2" y1="383.55" x2="32.2" y2="402.26" stroke="#2e2e2e" stroke-width="0.85"/>
<line x1="32.6" y1="368.58" x2="30.8" y2="368.58" stroke="#2e2e2e" stroke-width="0.85"/>
<line x1="32.2" y1="392.91" x2="30.8" y2="392.91" stroke="#2e2e2e" stroke-width="0.85"/>
<line x1="30.8" y1="368.58" x2="30.8" y2="392.91" stroke="#2e2e2e" stroke-width="0.85"/>
<line x1="34" y1="433.45" x2="33.2" y2="433.45" stroke="#2e2e2e" stroke-width="0.85"/>
<line x1="34" y1="443.43" x2="33.2" y2="443.43" stroke="#2e2e2e" stroke-width="0.85"/>
<line x1="33.2" y1="433.45" x2="33.2" y2="443.43" stroke="#2e2e2e" stroke-width="0.85"/>
<line x1="34" y1="473.37" x2="33.3" y2="473.37" stroke="#2e2e2e" stroke-width="0.85"/>
<line x1="34" y1="483.35" x2="33.3" y2="483.35" stroke="#2e2e2e" stroke-width="0.85"/>
<line x1="33.3" y1="473.37" x2="33.3" y2="483.35" stroke="#2e2e2e" stroke-width="0.85"/>
<line x1="34" y1="463.39" x2="32.9" y2="463.39" stroke="#2e2e2e" stroke-width="0.85"/>
<line x1="33.3" y1="478.36" x2="32.9" y2="478.36" stroke="#2e2e2e" stroke-width="0.85"/>
<line x1="32.9" y1="463.39" x2="32.9" y2="478.36" stroke="#2e2e2e" stroke-width="0.85"/>
<line x1="34" y1="453.41" x2="32.5" y2="453.41" stroke="#2e2e2e" stroke-width="0.85"/>
<line x1="32.9" y1="470.88" x2="32.5" y2="470.88" stroke="#2e2e2e" stroke-width="0.85"/>
<line x1="32.5" y1="453.41" x2="32.5" y2="470.88" stroke="#2e2e2e" stroke-width="0.85"/>
<line x1="33.2" y1="438.44" x2="32" y2="438.44" stroke="#2e2e2e" stroke-width="0.85"/>
<line x1="32.5" y1="462.14" x2="32" y2="462.14" stroke="#2e2e2e" stroke-width="0.85"/>
<line x1="32" y1="438.44" x2="32" y2="462.14" stroke="#2e2e2e" stroke-width="0.85"/>
<line x1="34" y1="493.33" x2="33.2" y2="493.33" stroke="#2e2e2e" stroke-width="0.85"/>
<line x1="34" y1="503.31" x2="33.2" y2="503.31" stroke="#2e2e2e" stroke-width="0.85"/>
<line x1="33.2" y1="493.33" x2="33.2" y2="503.31" stroke="#2e2e2e" stroke-width="0.85"/>
<line x1="34" y1="523.27" x2="33.3" y2="523.27" stroke="#2e2e2e" stroke-width="0.85"/>
<line x1="34" y1="533.25" x2="33.3" y2="533.25" stroke="#2e2e2e" stroke-width="0.85"/>
<line x1="33.3" y1="523.27" x2="33.3" y2="533.25" stroke="#2e2e2e" stroke-width="0.85"/>
<line x1="34" y1="543.23" x2="33.3" y2="543.23" stroke="#2e2e2e" stroke-width="0.85"/>
<line x1="34" y1="553.21" x2="33.3" y2="553.21" stroke="#2e2e2e" stroke-width="0.85"/>
<line x1="33.3" y1="543.23" x2="33.3" y2="553.21" stroke="#2e2e2e" stroke-width="0.85"/>
<line x1="34" y1="573.17" x2="33.4" y2="573.17" stroke="#2e2e2e" stroke-width="0.85"/>
<line x1="34" y1="583.15" x2="33.4" y2="583.15" stroke="#2e2e2e" stroke-width="0.85"/>
<line x1="33.4" y1="573.17" x2="33.4" y2="583.15" stroke="#2e2e2e" stroke-width="0.85"/>
<line x1="34" y1="593.13" x2="33.4" y2="593.13" stroke="#2e2e2e" stroke-width="0.85"/>
<line x1="34" y1="603.11" x2="33.4" y2="603.11" stroke="#2e2e2e" stroke-width="0.85"/>
<line x1="33.4" y1="593.13" x2="33.4" y2="603.11" stroke="#2e2e2e" stroke-width="0.85"/>
<line x1="33.4" y1="578.16" x2="33.1" y2="578.16" stroke="#2e2e2e" stroke-width="0.85"/>
<line x1="33.4" y1="598.12" x2="33.1" y2="598.12" stroke="#2e2e2e" stroke-width="0.85"/>
<line x1="33.1" y1="578.16" x2="33.1" y2="598.12" stroke="#2e2e2e" stroke-width="0.85"/>
<line x1="34" y1="563.19" x2="32.8" y2="563.19" stroke="#2e2e2e" stroke-width="0.85"/>
<line x1="33.1" y1="588.14" x2="32.8" y2="588.14" stroke="#2e2e2e" stroke-width="0.85"/>
<line x1="32.8" y1="563.19" x2="32.8" y2="588.14" stroke="#2e2e2e" stroke-width="0.85"/>
<line x1="33.3" y1="548.22" x2="32.5" y2="548.22" stroke="#2e2e2e" stroke-width="0.85"/>
<line x1="32.8" y1="575.67" x2="32.5" y2="575.67" stroke="#2e2e2e" stroke-width="0.85"/>
<line x1="32.5" y1="548.22" x2="32.5" y2="575.67" stroke="#2e2e2e" stroke-width="0.85"/>
<line x1="33.3" y1="528.26" x2="32.2" y2="528.26" stroke="#2e2e2e" stroke-width="0.85"/>
<line x1="32.5" y1="561.94" x2="32.2" y2="561.94" stroke="#2e2e2e" stroke-width="0.85"/>
<line x1="32.2" y1="528.26" x2="32.2" y2="561.94" stroke="#2e2e2e" stroke-width="0.85"/>
<line x1="34" y1="513.29" x2="31.8" y2="513.29" stroke="#2e2e2e" stroke-width="0.85"/>
<line x1="32.2" y1="545.1" x2="31.8" y2="545.1" stroke="#2e2e2e" stroke-width="0.85"/>
<line x1="31.8" y1="513.29" x2="31.8" y2="545.1" stroke="#2e2e2e" stroke-width="0.85"/>
<line x1="33.2" y1="498.32" x2="31.4" y2="498.32" stroke="#2e2e2e" stroke-width="0.85"/>
<line x1="31.8" y1="529.2" x2="31.4" y2="529.2" stroke="#2e2e2e" stroke-width="0.85"/>
<line x1="31.4" y1="498.32" x2="31.4" y2="529.2" stroke="#2e2e2e" stroke-width="0.85"/>
<line x1="32" y1="450.29" x2="30.7" y2="450.29" stroke="#2e2e2e" stroke-width="0.85"/>
<line x1="31.4" y1="513.76" x2="30.7" y2="513.76" stroke="#2e2e2e" stroke-width="0.85"/>
<line x1="30.7" y1="450.29" x2="30.7" y2="513.76" stroke="#2e2e2e" stroke-width="0.85"/>
<line x1="30.8" y1="380.74" x2="10.5" y2="380.74" stroke="#2e2e2e" stroke-width="0.85"/>
<line x1="30.7" y1="482.02" x2="10.5" y2="482.02" stroke="#2e2e2e" stroke-width="0.85"/>
<line x1="10.5" y1="380.74" x2="10.5" y2="482.02" stroke="#2e2e2e" stroke-width="0.85"/>
<defs><linearGradient id="gC" x1="0" x2="1" y1="0" y2="0">
<stop offset="0" stop-color="#981025"/>
<stop offset="0.05" stop-color="#b41b2d"/>
<stop offset="0.1" stop-color="#c63539"/>
<stop offset="0.15" stop-color="#d45044"/>
<stop offset="0.2" stop-color="#de6854"/>
<stop offset="0.25" stop-color="#e98166"/>
<stop offset="0.3" stop-color="#f39d7b"/>
<stop offset="0.35" stop-color="#f7b99a"/>
<stop offset="0.4" stop-color="#fbd4be"/>
<stop offset="0.45" stop-color="#f3e0d6"/>
<stop offset="0.5" stop-color="#e2e2e4"/>
<stop offset="0.55" stop-color="#d8e4ee"/>
<stop offset="0.6" stop-color="#c1dcee"/>
<stop offset="0.65" stop-color="#a5cee6"/>
<stop offset="0.7" stop-color="#85bcdd"/>
<stop offset="0.75" stop-color="#64a6d4"/>
<stop offset="0.8" stop-color="#4590c9"/>
<stop offset="0.85" stop-color="#3075b6"/>
<stop offset="0.9" stop-color="#1f60aa"/>
<stop offset="0.95" stop-color="#124f94"/>
<stop offset="1" stop-color="#0b336d"/>
</linearGradient></defs>
<rect x="80.1" y="619.6" width="126" height="8.4" fill="url(#gC)"/>
<text transform="translate(89.9,613.8) rotate(-90)" font-size="6" text-anchor="middle">2</text>
<text transform="translate(116.7,613.8) rotate(-90)" font-size="6" text-anchor="middle">1</text>
<text transform="translate(144.1,613.8) rotate(-90)" font-size="6" text-anchor="middle">0</text>
<text transform="translate(171.5,613.8) rotate(-90)" font-size="6" text-anchor="middle">-1</text>
<text transform="translate(198.9,613.8) rotate(-90)" font-size="6" text-anchor="middle">-2</text>
<text x="297.8" y="17.9" font-size="15" font-weight="bold">B</text>
<rect x="415.4" y="15.3" width="48.3" height="226" fill="#ffffff"/>
<line x1="420.9" y1="15.3" x2="420.9" y2="241.3" stroke="#f3f3f3" stroke-width="0.5"/>
<line x1="432" y1="15.3" x2="432" y2="241.3" stroke="#f3f3f3" stroke-width="0.5"/>
<line x1="443.1" y1="15.3" x2="443.1" y2="241.3" stroke="#f3f3f3" stroke-width="0.5"/>
<line x1="454.1" y1="15.3" x2="454.1" y2="241.3" stroke="#f3f3f3" stroke-width="0.5"/>
<line x1="426.5" y1="15.3" x2="426.5" y2="241.3" stroke="#ebebeb" stroke-width="0.6"/>
<line x1="437.6" y1="15.3" x2="437.6" y2="241.3" stroke="#ebebeb" stroke-width="0.6"/>
<line x1="448.6" y1="15.3" x2="448.6" y2="241.3" stroke="#ebebeb" stroke-width="0.6"/>
<line x1="459.7" y1="15.3" x2="459.7" y2="241.3" stroke="#ebebeb" stroke-width="0.6"/>
<line x1="415.4" y1="20.6" x2="463.7" y2="20.6" stroke="#ebebeb" stroke-width="0.6"/>
<line x1="415.4" y1="29.63" x2="463.7" y2="29.63" stroke="#ebebeb" stroke-width="0.6"/>
<line x1="415.4" y1="38.66" x2="463.7" y2="38.66" stroke="#ebebeb" stroke-width="0.6"/>
<line x1="415.4" y1="47.69" x2="463.7" y2="47.69" stroke="#ebebeb" stroke-width="0.6"/>
<line x1="415.4" y1="56.72" x2="463.7" y2="56.72" stroke="#ebebeb" stroke-width="0.6"/>
<line x1="415.4" y1="65.75" x2="463.7" y2="65.75" stroke="#ebebeb" stroke-width="0.6"/>
<line x1="415.4" y1="74.78" x2="463.7" y2="74.78" stroke="#ebebeb" stroke-width="0.6"/>
<line x1="415.4" y1="83.81" x2="463.7" y2="83.81" stroke="#ebebeb" stroke-width="0.6"/>
<line x1="415.4" y1="92.84" x2="463.7" y2="92.84" stroke="#ebebeb" stroke-width="0.6"/>
<line x1="415.4" y1="101.87" x2="463.7" y2="101.87" stroke="#ebebeb" stroke-width="0.6"/>
<line x1="415.4" y1="110.9" x2="463.7" y2="110.9" stroke="#ebebeb" stroke-width="0.6"/>
<line x1="415.4" y1="119.93" x2="463.7" y2="119.93" stroke="#ebebeb" stroke-width="0.6"/>
<line x1="415.4" y1="128.96" x2="463.7" y2="128.96" stroke="#ebebeb" stroke-width="0.6"/>
<line x1="415.4" y1="137.99" x2="463.7" y2="137.99" stroke="#ebebeb" stroke-width="0.6"/>
<line x1="415.4" y1="147.02" x2="463.7" y2="147.02" stroke="#ebebeb" stroke-width="0.6"/>
<line x1="415.4" y1="156.05" x2="463.7" y2="156.05" stroke="#ebebeb" stroke-width="0.6"/>
<line x1="415.4" y1="165.08" x2="463.7" y2="165.08" stroke="#ebebeb" stroke-width="0.6"/>
<line x1="415.4" y1="174.11" x2="463.7" y2="174.11" stroke="#ebebeb" stroke-width="0.6"/>
<line x1="415.4" y1="183.14" x2="463.7" y2="183.14" stroke="#ebebeb" stroke-width="0.6"/>
<line x1="415.4" y1="192.17" x2="463.7" y2="192.17" stroke="#ebebeb" stroke-width="0.6"/>
<line x1="415.4" y1="201.2" x2="463.7" y2="201.2" stroke="#ebebeb" stroke-width="0.6"/>
<line x1="415.4" y1="210.23" x2="463.7" y2="210.23" stroke="#ebebeb" stroke-width="0.6"/>
<line x1="415.4" y1="219.26" x2="463.7" y2="219.26" stroke="#ebebeb" stroke-width="0.6"/>
<line x1="415.4" y1="228.29" x2="463.7" y2="228.29" stroke="#ebebeb" stroke-width="0.6"/>
<line x1="415.4" y1="237.32" x2="463.7" y2="237.32" stroke="#ebebeb" stroke-width="0.6"/>
<defs><clipPath id="clipB"><rect x="415.4" y="15.3" width="48.3" height="226"/></clipPath></defs>
<g clip-path="url(#clipB)">
<ellipse cx="462.3" cy="20.6" rx="3.2" ry="4.2" fill="#ff0000"/>
<ellipse cx="440.9" cy="29.63" rx="2.05" ry="2.55" fill="#ff0000"/>
<ellipse cx="437.7" cy="38.66" rx="3.05" ry="3.95" fill="#ff0000"/>
<ellipse cx="436.3" cy="47.69" rx="1.65" ry="2.15" fill="#ff0000"/>
<ellipse cx="433.9" cy="56.72" rx="2.05" ry="2.55" fill="#ff0000"/>
<ellipse cx="432.2" cy="65.75" rx="1.9" ry="2.5" fill="#ff0000"/>
<ellipse cx="431.6" cy="74.78" rx="1.9" ry="2.4" fill="#ff0000"/>
<ellipse cx="428" cy="83.81" rx="2.4" ry="3.15" fill="#ff0000"/>
<ellipse cx="428" cy="92.84" rx="1.9" ry="2.25" fill="#ff0300"/>
<ellipse cx="423.3" cy="101.87" rx="1.75" ry="2.25" fill="#ff0800"/>
<ellipse cx="422.1" cy="110.9" rx="2.5" ry="3.15" fill="#ff0800"/>
<ellipse cx="422.1" cy="119.93" rx="2.05" ry="2.5" fill="#ff0800"/>
<ellipse cx="421.4" cy="128.96" rx="1.75" ry="2.15" fill="#ff0c00"/>
<ellipse cx="421.4" cy="137.99" rx="1.65" ry="2" fill="#ff0c00"/>
<ellipse cx="420.5" cy="147.02" rx="2.15" ry="2.65" fill="#ff0f00"/>
<ellipse cx="420.1" cy="156.05" rx="1.8" ry="2.15" fill="#ff1200"/>
<ellipse cx="420.1" cy="165.08" rx="1.75" ry="2.1" fill="#ff1700"/>
<ellipse cx="419.8" cy="174.11" rx="1.65" ry="2" fill="#ff1700"/>
<ellipse cx="419.5" cy="183.14" rx="1.5" ry="1.8" fill="#ff1c00"/>
<ellipse cx="419.4" cy="192.17" rx="1.9" ry="2.4" fill="#ff2b00"/>
<ellipse cx="418.7" cy="201.2" rx="1.2" ry="1.5" fill="#ff2e00"/>
<ellipse cx="418.6" cy="210.23" rx="1.5" ry="1.8" fill="#ff3600"/>
<ellipse cx="418.4" cy="219.26" rx="1.5" ry="1.8" fill="#ff3a00"/>
<ellipse cx="417.8" cy="228.29" rx="2.1" ry="2.5" fill="#ff9100"/>
<ellipse cx="417.8" cy="237.32" rx="1" ry="1.25" fill="#ff7a00"/>
</g>
<line x1="415.4" y1="15.3" x2="463.7" y2="15.3" stroke="#7a7a7a" stroke-width="0.8"/>
<line x1="463.7" y1="15.3" x2="463.7" y2="241.3" stroke="#ababab" stroke-width="1.0"/>
<line x1="415.4" y1="15.3" x2="415.4" y2="241.3" stroke="#6a6a6a" stroke-width="0.9"/>
<line x1="415.4" y1="241.3" x2="463.7" y2="241.3" stroke="#9a9a9a" stroke-width="0.9"/>
<line x1="413" y1="20.6" x2="415.4" y2="20.6" stroke="#333" stroke-width="0.7"/>
<text transform="translate(412.8,22.2) scale(0.8,1)" font-size="6.6" text-anchor="end">Arginine biosynthesis</text>
<line x1="413" y1="29.63" x2="415.4" y2="29.63" stroke="#333" stroke-width="0.7"/>
<text transform="translate(412.8,30.8) scale(0.8,1)" font-size="6.6" text-anchor="end">Aminoacyl-tRNA biosynthesis</text>
<line x1="413" y1="38.66" x2="415.4" y2="38.66" stroke="#333" stroke-width="0.7"/>
<text transform="translate(412.8,40.7) scale(0.8,1)" font-size="6.6" text-anchor="end">D-Glutamine and D-Glutamate metabolism</text>
<line x1="413" y1="47.69" x2="415.4" y2="47.69" stroke="#333" stroke-width="0.7"/>
<text transform="translate(412.8,49.2) scale(0.8,1)" font-size="6.6" text-anchor="end">Purine metabolism</text>
<line x1="413" y1="56.72" x2="415.4" y2="56.72" stroke="#333" stroke-width="0.7"/>
<text transform="translate(412.8,57.3) scale(0.8,1)" font-size="6.6" text-anchor="end">Alanine, aspartate and glutamate metabolism</text>
<line x1="413" y1="65.75" x2="415.4" y2="65.75" stroke="#333" stroke-width="0.7"/>
<text transform="translate(412.8,68.1) scale(0.8,1)" font-size="6.6" text-anchor="end">Arginine and proline metabolism</text>
<line x1="413" y1="74.78" x2="415.4" y2="74.78" stroke="#333" stroke-width="0.7"/>
<text transform="translate(412.8,76.9) scale(0.8,1)" font-size="6.6" text-anchor="end">Pyrimidine metabolism</text>
<line x1="413" y1="83.81" x2="415.4" y2="83.81" stroke="#333" stroke-width="0.7"/>
<text transform="translate(412.8,86.8) scale(0.8,1)" font-size="6.6" text-anchor="end">Valine, leucine and isoleucine biosynthesis</text>
<line x1="413" y1="92.84" x2="415.4" y2="92.84" stroke="#333" stroke-width="0.7"/>
<text transform="translate(412.8,96.1) scale(0.8,1)" font-size="6.6" text-anchor="end">Glycine, serine and threonine metabolism</text>
<line x1="413" y1="101.87" x2="415.4" y2="101.87" stroke="#333" stroke-width="0.7"/>
<text transform="translate(412.8,103) scale(0.8,1)" font-size="6.6" text-anchor="end">Pentose phosphate pathway</text>
<line x1="413" y1="110.9" x2="415.4" y2="110.9" stroke="#333" stroke-width="0.7"/>
<text transform="translate(412.8,112) scale(0.8,1)" font-size="6.6" text-anchor="end">Phenylalanine, tyrosine and tryptophan biosynthesis</text>
<line x1="413" y1="119.93" x2="415.4" y2="119.93" stroke="#333" stroke-width="0.7"/>
<text transform="translate(412.8,121.9) scale(0.8,1)" font-size="6.6" text-anchor="end">Phenylalanine metabolism</text>
<line x1="413" y1="128.96" x2="415.4" y2="128.96" stroke="#333" stroke-width="0.7"/>
<text transform="translate(412.8,130.7) scale(0.8,1)" font-size="6.6" text-anchor="end">Pantothenate and CoA biosynthesis</text>
<line x1="413" y1="137.99" x2="415.4" y2="137.99" stroke="#333" stroke-width="0.7"/>
<text transform="translate(412.8,138.1) scale(0.8,1)" font-size="6.6" text-anchor="end">Glutathione metabolism</text>
<line x1="413" y1="147.02" x2="415.4" y2="147.02" stroke="#333" stroke-width="0.7"/>
<text transform="translate(412.8,148.5) scale(0.8,1)" font-size="6.6" text-anchor="end">Nitrogen metabolism</text>
<line x1="413" y1="156.05" x2="415.4" y2="156.05" stroke="#333" stroke-width="0.7"/>
<text transform="translate(412.8,157) scale(0.8,1)" font-size="6.6" text-anchor="end">Butanoate metabolism</text>
<line x1="413" y1="165.08" x2="415.4" y2="165.08" stroke="#333" stroke-width="0.7"/>
<text transform="translate(412.8,167.2) scale(0.8,1)" font-size="6.6" text-anchor="end">Nicotinate and nicotinamide metabolism</text>
<line x1="413" y1="174.11" x2="415.4" y2="174.11" stroke="#333" stroke-width="0.7"/>
<text transform="translate(412.8,174.1) scale(0.8,1)" font-size="6.6" text-anchor="end">Histidine metabolism</text>
<line x1="413" y1="183.14" x2="415.4" y2="183.14" stroke="#333" stroke-width="0.7"/>
<text transform="translate(412.8,184.3) scale(0.8,1)" font-size="6.6" text-anchor="end">Glycerophospholipid metabolism</text>
<line x1="413" y1="192.17" x2="415.4" y2="192.17" stroke="#333" stroke-width="0.7"/>
<text transform="translate(412.8,193.5) scale(0.8,1)" font-size="6.6" text-anchor="end">Vitamin B6 metabolism</text>
<line x1="413" y1="201.2" x2="415.4" y2="201.2" stroke="#333" stroke-width="0.7"/>
<text transform="translate(412.8,203) scale(0.8,1)" font-size="6.6" text-anchor="end">Tryptophan metabolism</text>
<line x1="413" y1="210.23" x2="415.4" y2="210.23" stroke="#333" stroke-width="0.7"/>
<text transform="translate(412.8,212.7) scale(0.8,1)" font-size="6.6" text-anchor="end">Citrate cycle (TCA cycle)</text>
<line x1="413" y1="219.26" x2="415.4" y2="219.26" stroke="#333" stroke-width="0.7"/>
<text transform="translate(412.8,219.6) scale(0.8,1)" font-size="6.6" text-anchor="end">beta-Alanine metabolism</text>
<line x1="413" y1="228.29" x2="415.4" y2="228.29" stroke="#333" stroke-width="0.7"/>
<text transform="translate(412.8,230) scale(0.8,1)" font-size="6.6" text-anchor="end">Riboflavin metabolism</text>
<line x1="413" y1="237.32" x2="415.4" y2="237.32" stroke="#333" stroke-width="0.7"/>
<text transform="translate(412.8,239.2) scale(0.8,1)" font-size="6.6" text-anchor="end">Glycolysis/Gluconeogenesis</text>
<line x1="426.5" y1="241.3" x2="426.5" y2="243.3" stroke="#333" stroke-width="0.7"/>
<text transform="translate(426.5,248.8) scale(0.8,1)" font-size="5.2" text-anchor="middle">2.5</text>
<line x1="437.6" y1="241.3" x2="437.6" y2="243.3" stroke="#333" stroke-width="0.7"/>
<text transform="translate(437.6,248.8) scale(0.8,1)" font-size="5.2" text-anchor="middle">5.0</text>
<line x1="448.6" y1="241.3" x2="448.6" y2="243.3" stroke="#333" stroke-width="0.7"/>
<text transform="translate(448.6,248.8) scale(0.8,1)" font-size="5.2" text-anchor="middle">7.5</text>
<line x1="459.7" y1="241.3" x2="459.7" y2="243.3" stroke="#333" stroke-width="0.7"/>
<text transform="translate(459.7,248.8) scale(0.8,1)" font-size="5.2" text-anchor="middle">10.0</text>
<text x="427.2" y="257.0" font-size="6.4">-log<tspan font-size="4.2" dy="1.5">10</tspan><tspan dy="-1.5">(</tspan><tspan font-style="italic">P</tspan>)</text>
<text x="298" y="254.7" font-size="15" font-weight="bold">D</text>
<rect x="403.1" y="267.3" width="61.1" height="226.7" fill="#ffffff"/>
<line x1="405.1" y1="267.3" x2="405.1" y2="494" stroke="#f3f3f3" stroke-width="0.5"/>
<line x1="416" y1="267.3" x2="416" y2="494" stroke="#f3f3f3" stroke-width="0.5"/>
<line x1="426.9" y1="267.3" x2="426.9" y2="494" stroke="#f3f3f3" stroke-width="0.5"/>
<line x1="437.8" y1="267.3" x2="437.8" y2="494" stroke="#f3f3f3" stroke-width="0.5"/>
<line x1="448.8" y1="267.3" x2="448.8" y2="494" stroke="#f3f3f3" stroke-width="0.5"/>
<line x1="459.8" y1="267.3" x2="459.8" y2="494" stroke="#f3f3f3" stroke-width="0.5"/>
<line x1="410.6" y1="267.3" x2="410.6" y2="494" stroke="#ebebeb" stroke-width="0.6"/>
<line x1="421.5" y1="267.3" x2="421.5" y2="494" stroke="#ebebeb" stroke-width="0.6"/>
<line x1="432.3" y1="267.3" x2="432.3" y2="494" stroke="#ebebeb" stroke-width="0.6"/>
<line x1="443.3" y1="267.3" x2="443.3" y2="494" stroke="#ebebeb" stroke-width="0.6"/>
<line x1="454.3" y1="267.3" x2="454.3" y2="494" stroke="#ebebeb" stroke-width="0.6"/>
<line x1="403.1" y1="272.4" x2="464.2" y2="272.4" stroke="#ebebeb" stroke-width="0.6"/>
<line x1="403.1" y1="281.41" x2="464.2" y2="281.41" stroke="#ebebeb" stroke-width="0.6"/>
<line x1="403.1" y1="290.42" x2="464.2" y2="290.42" stroke="#ebebeb" stroke-width="0.6"/>
<line x1="403.1" y1="299.43" x2="464.2" y2="299.43" stroke="#ebebeb" stroke-width="0.6"/>
<line x1="403.1" y1="308.44" x2="464.2" y2="308.44" stroke="#ebebeb" stroke-width="0.6"/>
<line x1="403.1" y1="317.45" x2="464.2" y2="317.45" stroke="#ebebeb" stroke-width="0.6"/>
<line x1="403.1" y1="326.46" x2="464.2" y2="326.46" stroke="#ebebeb" stroke-width="0.6"/>
<line x1="403.1" y1="335.47" x2="464.2" y2="335.47" stroke="#ebebeb" stroke-width="0.6"/>
<line x1="403.1" y1="344.48" x2="464.2" y2="344.48" stroke="#ebebeb" stroke-width="0.6"/>
<line x1="403.1" y1="353.49" x2="464.2" y2="353.49" stroke="#ebebeb" stroke-width="0.6"/>
<line x1="403.1" y1="362.5" x2="464.2" y2="362.5" stroke="#ebebeb" stroke-width="0.6"/>
<line x1="403.1" y1="371.51" x2="464.2" y2="371.51" stroke="#ebebeb" stroke-width="0.6"/>
<line x1="403.1" y1="380.52" x2="464.2" y2="380.52" stroke="#ebebeb" stroke-width="0.6"/>
<line x1="403.1" y1="389.53" x2="464.2" y2="389.53" stroke="#ebebeb" stroke-width="0.6"/>
<line x1="403.1" y1="398.54" x2="464.2" y2="398.54" stroke="#ebebeb" stroke-width="0.6"/>
<line x1="403.1" y1="407.55" x2="464.2" y2="407.55" stroke="#ebebeb" stroke-width="0.6"/>
<line x1="403.1" y1="416.56" x2="464.2" y2="416.56" stroke="#ebebeb" stroke-width="0.6"/>
<line x1="403.1" y1="425.57" x2="464.2" y2="425.57" stroke="#ebebeb" stroke-width="0.6"/>
<line x1="403.1" y1="434.58" x2="464.2" y2="434.58" stroke="#ebebeb" stroke-width="0.6"/>
<line x1="403.1" y1="443.59" x2="464.2" y2="443.59" stroke="#ebebeb" stroke-width="0.6"/>
<line x1="403.1" y1="452.6" x2="464.2" y2="452.6" stroke="#ebebeb" stroke-width="0.6"/>
<line x1="403.1" y1="461.61" x2="464.2" y2="461.61" stroke="#ebebeb" stroke-width="0.6"/>
<line x1="403.1" y1="470.62" x2="464.2" y2="470.62" stroke="#ebebeb" stroke-width="0.6"/>
<line x1="403.1" y1="479.63" x2="464.2" y2="479.63" stroke="#ebebeb" stroke-width="0.6"/>
<line x1="403.1" y1="488.64" x2="464.2" y2="488.64" stroke="#ebebeb" stroke-width="0.6"/>
<defs><clipPath id="clipD"><rect x="403.1" y="267.3" width="61.1" height="226.7"/></clipPath></defs>
<g clip-path="url(#clipD)">
<ellipse cx="461.2" cy="272.4" rx="2.8" ry="3.7" fill="#ff0000"/>
<ellipse cx="450.5" cy="281.41" rx="1.75" ry="2.2" fill="#ff0000"/>
<ellipse cx="447.5" cy="290.42" rx="2.3" ry="2.85" fill="#ff0000"/>
<ellipse cx="445.8" cy="299.43" rx="2" ry="2.7" fill="#ff0000"/>
<ellipse cx="436.6" cy="308.44" rx="1.6" ry="2" fill="#ff0000"/>
<ellipse cx="434" cy="317.45" rx="2" ry="2.5" fill="#ff0000"/>
<ellipse cx="433.9" cy="326.46" rx="2.1" ry="2.7" fill="#ff0000"/>
<ellipse cx="423.6" cy="335.47" rx="1.9" ry="2.4" fill="#ff0300"/>
<ellipse cx="420.3" cy="344.48" rx="1.65" ry="2.15" fill="#ff0500"/>
<ellipse cx="418.6" cy="353.49" rx="1.8" ry="2.3" fill="#ff0800"/>
<ellipse cx="417.4" cy="362.5" rx="1.65" ry="2.15" fill="#ff0900"/>
<ellipse cx="416.9" cy="371.51" rx="1.65" ry="2.15" fill="#ff0b00"/>
<ellipse cx="415.4" cy="380.52" rx="2.2" ry="2.7" fill="#ff0c00"/>
<ellipse cx="413.9" cy="389.53" rx="1.9" ry="2.5" fill="#ff0f00"/>
<ellipse cx="413.9" cy="398.54" rx="1.35" ry="1.7" fill="#ff0f00"/>
<ellipse cx="413.1" cy="407.55" rx="1.45" ry="1.8" fill="#ff1200"/>
<ellipse cx="412.8" cy="416.56" rx="1.9" ry="2.4" fill="#ff1400"/>
<ellipse cx="411.9" cy="425.57" rx="1.9" ry="2.4" fill="#ff1700"/>
<ellipse cx="411.1" cy="434.58" rx="1.8" ry="2.25" fill="#ff1c00"/>
<ellipse cx="408.9" cy="443.59" rx="1.35" ry="1.8" fill="#ff4500"/>
<ellipse cx="407.8" cy="452.6" rx="2" ry="2.4" fill="#ff7300"/>
<ellipse cx="406.3" cy="461.61" rx="1.5" ry="1.8" fill="#ff8200"/>
<ellipse cx="406.3" cy="470.62" rx="1.5" ry="1.8" fill="#ff8a00"/>
<ellipse cx="406" cy="479.63" rx="1.8" ry="2.2" fill="#ff9100"/>
<ellipse cx="405.5" cy="488.64" rx="0.9" ry="1.2" fill="#ff9900"/>
</g>
<line x1="403.1" y1="267.3" x2="464.2" y2="267.3" stroke="#7a7a7a" stroke-width="0.8"/>
<line x1="464.2" y1="267.3" x2="464.2" y2="494" stroke="#ababab" stroke-width="1.0"/>
<line x1="403.1" y1="267.3" x2="403.1" y2="494" stroke="#6a6a6a" stroke-width="0.9"/>
<line x1="403.1" y1="494" x2="464.2" y2="494" stroke="#9a9a9a" stroke-width="0.9"/>
<line x1="400.7" y1="272.4" x2="403.1" y2="272.4" stroke="#333" stroke-width="0.7"/>
<text transform="translate(400.5,273.8) scale(0.8,1)" font-size="6.6" text-anchor="end">D-Glutamine and D-Glutamate metabolism</text>
<line x1="400.7" y1="281.41" x2="403.1" y2="281.41" stroke="#333" stroke-width="0.7"/>
<text transform="translate(400.5,283.2) scale(0.8,1)" font-size="6.6" text-anchor="end">Aminoacyl-tRNA biosynthesis</text>
<line x1="400.7" y1="290.42" x2="403.1" y2="290.42" stroke="#333" stroke-width="0.7"/>
<text transform="translate(400.5,292.6) scale(0.8,1)" font-size="6.6" text-anchor="end">Arginine biosynthesis</text>
<line x1="400.7" y1="299.43" x2="403.1" y2="299.43" stroke="#333" stroke-width="0.7"/>
<text transform="translate(400.5,301) scale(0.8,1)" font-size="6.6" text-anchor="end">Alanine, aspartate and glutamate metabolism</text>
<line x1="400.7" y1="308.44" x2="403.1" y2="308.44" stroke="#333" stroke-width="0.7"/>
<text transform="translate(400.5,311.5) scale(0.8,1)" font-size="6.6" text-anchor="end">Purine metabolism</text>
<line x1="400.7" y1="317.45" x2="403.1" y2="317.45" stroke="#333" stroke-width="0.7"/>
<text transform="translate(400.5,318.9) scale(0.8,1)" font-size="6.6" text-anchor="end">Pentose phosphate pathway</text>
<line x1="400.7" y1="326.46" x2="403.1" y2="326.46" stroke="#333" stroke-width="0.7"/>
<text transform="translate(400.5,328.2) scale(0.8,1)" font-size="6.6" text-anchor="end">Butanoate metabolism</text>
<line x1="400.7" y1="335.47" x2="403.1" y2="335.47" stroke="#333" stroke-width="0.7"/>
<text transform="translate(400.5,338.1) scale(0.8,1)" font-size="6.6" text-anchor="end">Nicotinate and nicotinamide metabolism</text>
<line x1="400.7" y1="344.48" x2="403.1" y2="344.48" stroke="#333" stroke-width="0.7"/>
<text transform="translate(400.5,346.2) scale(0.8,1)" font-size="6.6" text-anchor="end">Arginine and proline metabolism</text>
<line x1="400.7" y1="353.49" x2="403.1" y2="353.49" stroke="#333" stroke-width="0.7"/>
<text transform="translate(400.5,356.1) scale(0.8,1)" font-size="6.6" text-anchor="end">Citrate cycle (TCA cycle)</text>
<line x1="400.7" y1="362.5" x2="403.1" y2="362.5" stroke="#333" stroke-width="0.7"/>
<text transform="translate(400.5,364.7) scale(0.8,1)" font-size="6.6" text-anchor="end">Glyoxylate and dicarboxylate metabolism</text>
<line x1="400.7" y1="371.51" x2="403.1" y2="371.51" stroke="#333" stroke-width="0.7"/>
<text transform="translate(400.5,373.9) scale(0.8,1)" font-size="6.6" text-anchor="end">Glycine, serine and threonine metabolism</text>
<line x1="400.7" y1="380.52" x2="403.1" y2="380.52" stroke="#333" stroke-width="0.7"/>
<text transform="translate(400.5,382.9) scale(0.8,1)" font-size="6.6" text-anchor="end">Nitrogen metabolism</text>
<line x1="400.7" y1="389.53" x2="403.1" y2="389.53" stroke="#333" stroke-width="0.7"/>
<text transform="translate(400.5,392.1) scale(0.8,1)" font-size="6.6" text-anchor="end">Thiamine metabolism</text>
<line x1="400.7" y1="398.54" x2="403.1" y2="398.54" stroke="#333" stroke-width="0.7"/>
<text transform="translate(400.5,401.1) scale(0.8,1)" font-size="6.6" text-anchor="end">Pyrimidine metabolism</text>
<line x1="400.7" y1="407.55" x2="403.1" y2="407.55" stroke="#333" stroke-width="0.7"/>
<text transform="translate(400.5,410.1) scale(0.8,1)" font-size="6.6" text-anchor="end">Tryptophan metabolism</text>
<line x1="400.7" y1="416.56" x2="403.1" y2="416.56" stroke="#333" stroke-width="0.7"/>
<text transform="translate(400.5,419.1) scale(0.8,1)" font-size="6.6" text-anchor="end">Valine, leucine and isoleucine biosynthesis</text>
<line x1="400.7" y1="425.57" x2="403.1" y2="425.57" stroke="#333" stroke-width="0.7"/>
<text transform="translate(400.5,428.1) scale(0.8,1)" font-size="6.6" text-anchor="end">Vitamin B6 metabolism</text>
<line x1="400.7" y1="434.58" x2="403.1" y2="434.58" stroke="#333" stroke-width="0.7"/>
<text transform="translate(400.5,437.1) scale(0.8,1)" font-size="6.6" text-anchor="end">Biotin metabolism</text>
<line x1="400.7" y1="443.59" x2="403.1" y2="443.59" stroke="#333" stroke-width="0.7"/>
<text transform="translate(400.5,446.1) scale(0.8,1)" font-size="6.6" text-anchor="end">Lysine degradation</text>
<line x1="400.7" y1="452.6" x2="403.1" y2="452.6" stroke="#333" stroke-width="0.7"/>
<text transform="translate(400.5,455.1) scale(0.8,1)" font-size="6.6" text-anchor="end">Riboflavin metabolism</text>
<line x1="400.7" y1="461.61" x2="403.1" y2="461.61" stroke="#333" stroke-width="0.7"/>
<text transform="translate(400.5,464.1) scale(0.8,1)" font-size="6.6" text-anchor="end">Starch and sucrose metabolism</text>
<line x1="400.7" y1="470.62" x2="403.1" y2="470.62" stroke="#333" stroke-width="0.7"/>
<text transform="translate(400.5,473.1) scale(0.8,1)" font-size="6.6" text-anchor="end">Pantothenate and CoA biosynthesis</text>
<line x1="400.7" y1="479.63" x2="403.1" y2="479.63" stroke="#333" stroke-width="0.7"/>
<text transform="translate(400.5,482.1) scale(0.8,1)" font-size="6.6" text-anchor="end">Phosphate and phosphinate metabolism</text>
<line x1="400.7" y1="488.64" x2="403.1" y2="488.64" stroke="#333" stroke-width="0.7"/>
<text transform="translate(400.5,491) scale(0.8,1)" font-size="6.6" text-anchor="end">Glycerophospholipid metabolism</text>
<line x1="410.6" y1="494" x2="410.6" y2="496" stroke="#333" stroke-width="0.7"/>
<text transform="translate(410.6,501.5) scale(0.8,1)" font-size="5.2" text-anchor="middle">1</text>
<line x1="421.5" y1="494" x2="421.5" y2="496" stroke="#333" stroke-width="0.7"/>
<text transform="translate(421.5,501.5) scale(0.8,1)" font-size="5.2" text-anchor="middle">2</text>
<line x1="432.3" y1="494" x2="432.3" y2="496" stroke="#333" stroke-width="0.7"/>
<text transform="translate(432.3,501.5) scale(0.8,1)" font-size="5.2" text-anchor="middle">3</text>
<line x1="443.3" y1="494" x2="443.3" y2="496" stroke="#333" stroke-width="0.7"/>
<text transform="translate(443.3,501.5) scale(0.8,1)" font-size="5.2" text-anchor="middle">4</text>
<line x1="454.3" y1="494" x2="454.3" y2="496" stroke="#333" stroke-width="0.7"/>
<text transform="translate(454.3,501.5) scale(0.8,1)" font-size="5.2" text-anchor="middle">5</text>
<text x="422.2" y="509.8" font-size="6.4">-log<tspan font-size="4.2" dy="1.5">10</tspan><tspan dy="-1.5">(</tspan><tspan font-style="italic">P</tspan>)</text>
<text transform="translate(471.4,73.0) scale(0.85,1)" font-size="5.8">Enrichment Ratio</text>
<ellipse cx="475.3" cy="81.1" rx="1.05" ry="1.3" fill="#000"/>
<text transform="translate(481.1,83.1) scale(0.85,1)" font-size="5.6">2</text>
<ellipse cx="475.3" cy="88.7" rx="1.65" ry="2.05" fill="#000"/>
<text transform="translate(481.1,90.7) scale(0.85,1)" font-size="5.6">4</text>
<ellipse cx="475.3" cy="96.1" rx="2.1" ry="2.6" fill="#000"/>
<text transform="translate(481.1,98.1) scale(0.85,1)" font-size="5.6">6</text>
<ellipse cx="475.3" cy="104.4" rx="2.45" ry="3.04" fill="#000"/>
<text transform="translate(481.1,106.4) scale(0.85,1)" font-size="5.6">8</text>
<ellipse cx="475.3" cy="113.3" rx="2.9" ry="3.6" fill="#000"/>
<text transform="translate(481.1,115.3) scale(0.85,1)" font-size="5.6">10</text>
<ellipse cx="475.3" cy="123.1" rx="3.2" ry="3.97" fill="#000"/>
<text transform="translate(481.1,125.1) scale(0.85,1)" font-size="5.6">12</text>
<text x="472.8" y="147.4" font-size="7" font-style="italic" fill="#333">P</text>
<defs><linearGradient id="gP" x1="0" x2="0" y1="0" y2="1"><stop offset="0" stop-color="#ff9d00"/><stop offset="1" stop-color="#ff0a00"/></linearGradient></defs>
<rect x="471.1" y="150.7" width="6.4" height="38.7" fill="url(#gP)"/>
<text transform="translate(479.0,155.6) scale(0.82,1)" font-size="5.8">0.25</text>
<text transform="translate(479.0,162.8) scale(0.82,1)" font-size="5.8">0.20</text>
<text transform="translate(479.0,170) scale(0.82,1)" font-size="5.8">0.15</text>
<text transform="translate(479.0,177.2) scale(0.82,1)" font-size="5.8">0.10</text>
<text transform="translate(479.0,184.4) scale(0.82,1)" font-size="5.8">0.05</text>
<text transform="translate(479.0,191.6) scale(0.82,1)" font-size="5.8">0.00</text>
<text transform="translate(472.0,338.9) scale(0.85,1)" font-size="5.8">Enrichment Ratio</text>
<ellipse cx="475.1" cy="346.5" rx="1.65" ry="2.05" fill="#000"/>
<text transform="translate(481.2,348.5) scale(0.85,1)" font-size="5.6">4</text>
<ellipse cx="475.1" cy="353.8" rx="2.2" ry="2.73" fill="#000"/>
<text transform="translate(481.2,355.8) scale(0.85,1)" font-size="5.6">8</text>
<ellipse cx="475.1" cy="363" rx="2.65" ry="3.29" fill="#000"/>
<text transform="translate(481.2,365) scale(0.85,1)" font-size="5.6">12</text>
<text x="472.4" y="386.6" font-size="7" font-style="italic" fill="#333">P</text>
<defs><linearGradient id="gP2" x1="0" x2="0" y1="0" y2="1"><stop offset="0" stop-color="#ffa800"/><stop offset="1" stop-color="#ff0a00"/></linearGradient></defs>
<rect x="472" y="389.8" width="5.5" height="38.3" fill="url(#gP2)"/>
<text transform="translate(480.2,405.5) scale(0.85,1)" font-size="5.6">0.2</text>
<text transform="translate(480.2,417.9) scale(0.85,1)" font-size="5.6">0.1</text>
<text transform="translate(480.2,431) scale(0.85,1)" font-size="5.6">0.0</text>
<text x="298.5" y="514.3" font-size="15" font-weight="bold">E</text>
<ellipse cx="369.2" cy="557.5" rx="39.6" ry="38.1" fill="#80d8fa" stroke="#333" stroke-width="0.8"/>
<ellipse cx="418.3" cy="559.8" rx="35.8" ry="35.0" fill="#fabab6" stroke="#333" stroke-width="0.8"/>
<clipPath id="clipL"><ellipse cx="369.2" cy="557.5" rx="39.6" ry="38.1"/></clipPath>
<ellipse cx="418.3" cy="559.8" rx="35.8" ry="35.0" fill="#baa6b6" clip-path="url(#clipL)"/>
<ellipse cx="369.2" cy="557.5" rx="39.6" ry="38.1" fill="none" stroke="#333" stroke-width="0.8"/>
<ellipse cx="418.3" cy="559.8" rx="35.8" ry="35.0" fill="none" stroke="#333" stroke-width="0.8"/>
<text x="352.3" y="548.4" font-size="6" text-anchor="middle">82</text>
<text x="424.5" y="548.4" font-size="6" text-anchor="middle">58</text>
<text x="396.7" y="567.3" font-size="6" text-anchor="middle">23</text>
<text x="334.8" y="607.3" font-size="7.3">HMLE/FOXQ1</text>
<text x="334.8" y="616.4" font-size="7.3">shDDR2 vs. NT</text>
<text x="405.6" y="607.3" font-size="7.3">BT549</text>
<text x="405.6" y="616.4" font-size="7.3">shDDR2 vs. NT</text>
</svg>
</body></html>
